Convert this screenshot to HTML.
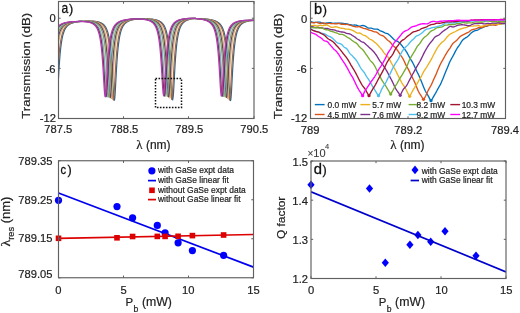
<!DOCTYPE html>
<html><head><meta charset="utf-8"><title>Figure</title>
<style>html,body{margin:0;padding:0;background:#fff;overflow:hidden;} svg{display:block;}
text{stroke:#222;stroke-width:0.2px;} text.pl{fill:#111;stroke:#111;stroke-width:0.3px;}</style>
</head><body>
<svg width="520" height="313" viewBox="0 0 520 313" font-family="'Liberation Sans', Arial, Helvetica, sans-serif">
<defs>
<clipPath id="ca"><rect x="58.5" y="1.5" width="195.5" height="117.0"/></clipPath>
<clipPath id="cb"><rect x="310.5" y="1.5" width="195.0" height="117.0"/></clipPath>
<clipPath id="cc"><rect x="58.5" y="160.75" width="195.0" height="117.0"/></clipPath>
<clipPath id="cd"><rect x="311" y="161" width="195" height="117.5"/></clipPath>
</defs>
<rect width="520" height="313" fill="#ffffff"/>
<polyline points="58.5,77.93 58.75,73.43 59,69.18 59.25,65.24 59.5,61.6 59.75,58.28 60,55.24 60.25,52.49 60.5,49.99 60.75,47.72 61,45.66 61.25,43.8 61.5,42.11 61.75,40.57 62,39.17 62.25,37.9 62.5,36.74 62.75,35.68 63,34.71 63.25,33.82 63.5,33.01 63.75,32.26 64,31.57 64.25,30.94 64.5,30.36 64.75,29.81 65,29.31 65.25,28.85 65.5,28.42 65.75,28.02 66,27.64 66.25,27.3 66.5,26.97 66.75,26.67 67,26.38 67.25,26.12 67.5,25.87 67.75,25.63 68,25.41 68.25,25.2 68.5,25.01 68.75,24.82 69,24.65 69.25,24.48 69.5,24.33 69.75,24.18 70,24.04 70.25,23.91 70.5,23.78 70.75,23.66 71,23.55 71.25,23.44 71.5,23.34 71.75,23.24 72,23.14 72.25,23.06 72.5,22.97 72.75,22.89 73,22.81 73.25,22.74 73.5,22.67 73.75,22.6 74,22.53 74.25,22.47 74.5,22.41 74.75,22.35 75,22.3 75.25,22.25 75.5,22.2 75.75,22.15 76,22.1 76.25,22.06 76.5,22.01 76.75,21.97 77,21.93 77.25,21.89 77.5,21.86 77.75,21.82 78,21.79 78.25,21.76 78.5,21.72 78.75,21.69 79,21.67 79.25,21.64 79.5,21.61 79.75,21.59 80,21.56 80.25,21.53 80.5,21.51 80.75,21.48 81,21.45 81.25,21.43 81.5,21.41 81.75,21.38 82,21.36 82.25,21.34 82.5,21.32 82.75,21.3 83,21.28 83.25,21.26 83.5,21.25 83.75,21.23 84,21.21 84.25,21.2 84.5,21.18 84.75,21.17 85,21.16 85.25,21.15 85.5,21.13 85.75,21.12 86,21.11 86.25,21.1 86.5,21.1 86.75,21.09 87,21.08 87.25,21.08 87.5,21.07 87.75,21.06 88,21.06 88.25,21.06 88.5,21.05 88.75,21.05 89,21.05 89.25,21.05 89.5,21.05 89.75,21.05 90,21.06 90.25,21.06 90.5,21.06 90.75,21.07 91,21.08 91.25,21.08 91.5,21.09 91.75,21.1 92,21.11 92.25,21.12 92.5,21.14 92.75,21.15 93,21.16 93.25,21.18 93.5,21.2 93.75,21.22 94,21.24 94.25,21.26 94.5,21.29 94.75,21.31 95,21.34 95.25,21.37 95.5,21.4 95.75,21.43 96,21.47 96.25,21.51 96.5,21.55 96.75,21.59 97,21.63 97.25,21.68 97.5,21.73 97.75,21.79 98,21.84 98.25,21.9 98.5,21.97 98.75,22.04 99,22.11 99.25,22.19 99.5,22.27 99.75,22.35 100,22.44 100.25,22.54 100.5,22.64 100.75,22.75 101,22.87 101.25,22.99 101.5,23.12 101.75,23.26 102,23.41 102.25,23.56 102.5,23.73 102.75,23.91 103,24.1 103.25,24.3 103.5,24.52 103.75,24.76 104,25 104.25,25.27 104.5,25.56 104.75,25.87 105,26.2 105.25,26.55 105.5,26.94 105.75,27.35 106,27.8 106.25,28.28 106.5,28.81 106.75,29.38 107,29.99 107.25,30.67 107.5,31.4 107.75,32.19 108,33.06 108.25,34.02 108.5,35.06 108.75,36.2 109,37.46 109.25,38.84 109.5,40.36 109.75,42.04 110,43.88 110.25,45.92 110.5,48.17 110.75,50.66 111,53.4 111.25,56.41 111.5,59.72 111.75,63.34 112,67.27 112.25,71.5 112.5,75.98 112.75,80.65 113,85.36 113.25,89.91 113.5,94.01 113.75,97.31 114,99.5 114.25,100.37 114.3,100 114.5,99.99 114.75,98.3 115,95.38 115.25,91.53 115.5,87.11 115.75,82.41 116,77.68 116.25,73.08 116.5,68.72 116.75,64.65 117,60.88 117.25,57.43 117.5,54.27 117.75,51.41 118,48.8 118.25,46.44 118.5,44.29 118.75,42.35 119,40.58 119.25,38.98 119.5,37.52 119.75,36.19 120,34.98 120.25,33.88 120.5,32.87 120.75,31.94 121,31.09 121.25,30.31 121.5,29.6 121.75,28.94 122,28.33 122.25,27.76 122.5,27.24 122.75,26.75 123,26.3 123.25,25.89 123.5,25.5 123.75,25.13 124,24.79 124.25,24.47 124.5,24.18 124.75,23.9 125,23.63 125.25,23.39 125.5,23.16 125.75,22.94 126,22.73 126.25,22.54 126.5,22.35 126.75,22.18 127,22.01 127.25,21.85 127.5,21.71 127.75,21.56 128,21.43 128.25,21.3 128.5,21.18 128.75,21.06 129,20.95 129.25,20.85 129.5,20.75 129.75,20.65 130,20.56 130.25,20.47 130.5,20.38 130.75,20.3 131,20.22 131.25,20.15 131.5,20.08 131.75,20.01 132,19.94 132.25,19.88 132.5,19.82 132.75,19.76 133,19.7 133.25,19.64 133.5,19.59 133.75,19.54 134,19.49 134.25,19.45 134.5,19.41 134.75,19.38 135,19.34 135.25,19.31 135.5,19.28 135.75,19.25 136,19.22 136.25,19.19 136.5,19.17 136.75,19.14 137,19.12 137.25,19.09 137.5,19.07 137.75,19.05 138,19.03 138.25,19.01 138.5,18.99 138.75,18.97 139,18.96 139.25,18.94 139.5,18.93 139.75,18.91 140,18.9 140.25,18.89 140.5,18.88 140.75,18.87 141,18.86 141.25,18.85 141.5,18.84 141.75,18.83 142,18.82 142.25,18.82 142.5,18.81 142.75,18.81 143,18.8 143.25,18.8 143.5,18.79 143.75,18.79 144,18.79 144.25,18.79 144.5,18.79 144.75,18.79 145,18.79 145.25,18.79 145.5,18.79 145.75,18.8 146,18.8 146.25,18.8 146.5,18.81 146.75,18.82 147,18.82 147.25,18.83 147.5,18.84 147.75,18.85 148,18.86 148.25,18.87 148.5,18.88 148.75,18.89 149,18.91 149.25,18.92 149.5,18.94 149.75,18.95 150,18.97 150.25,18.99 150.5,19.01 150.75,19.03 151,19.05 151.25,19.08 151.5,19.1 151.75,19.13 152,19.15 152.25,19.18 152.5,19.21 152.75,19.24 153,19.28 153.25,19.31 153.5,19.35 153.75,19.39 154,19.43 154.25,19.47 154.5,19.52 154.75,19.56 155,19.61 155.25,19.67 155.5,19.72 155.75,19.78 156,19.84 156.25,19.9 156.5,19.97 156.75,20.04 157,20.12 157.25,20.19 157.5,20.28 157.75,20.36 158,20.45 158.25,20.55 158.5,20.65 158.75,20.76 159,20.87 159.25,20.99 159.5,21.12 159.75,21.26 160,21.4 160.25,21.55 160.5,21.71 160.75,21.88 161,22.06 161.25,22.25 161.5,22.46 161.75,22.67 162,22.91 162.25,23.15 162.5,23.42 162.75,23.7 163,24.01 163.25,24.33 163.5,24.68 163.75,25.06 164,25.46 164.25,25.9 164.5,26.37 164.75,26.88 165,27.43 165.25,28.02 165.5,28.67 165.75,29.37 166,30.14 166.25,30.97 166.5,31.88 166.75,32.88 167,33.97 167.25,35.16 167.5,36.48 167.75,37.92 168,39.51 168.25,41.26 168.5,43.19 168.75,45.32 169,47.67 169.25,50.26 169.5,53.12 169.75,56.26 170,59.7 170.25,63.45 170.5,67.51 170.75,71.86 171,76.44 171.25,81.15 171.5,85.84 171.75,90.25 172,94.08 172.25,96.98 172.5,98.66 172.7,100 172.75,99.03 173,98.14 173.25,95.94 173.5,92.62 173.75,88.51 174,83.95 174.25,79.22 174.5,74.54 174.75,70.04 175,65.8 175.25,61.85 175.5,58.22 175.75,54.9 176,51.87 176.25,49.12 176.5,46.62 176.75,44.35 177,42.3 177.25,40.44 177.5,38.75 177.75,37.21 178,35.82 178.25,34.55 178.5,33.39 178.75,32.33 179,31.37 179.25,30.48 179.5,29.67 179.75,28.92 180,28.24 180.25,27.61 180.5,27.03 180.75,26.49 181,25.99 181.25,25.53 181.5,25.1 181.75,24.7 182,24.33 182.25,23.98 182.5,23.66 182.75,23.36 183,23.08 183.25,22.82 183.5,22.57 183.75,22.34 184,22.12 184.25,21.91 184.5,21.72 184.75,21.54 185,21.37 185.25,21.2 185.5,21.05 185.75,20.91 186,20.77 186.25,20.64 186.5,20.52 186.75,20.4 187,20.29 187.25,20.18 187.5,20.08 187.75,19.99 188,19.9 188.25,19.81 188.5,19.73 188.75,19.65 189,19.58 189.25,19.51 189.5,19.44 189.75,19.37 190,19.31 190.25,19.25 190.5,19.19 190.75,19.14 191,19.09 191.25,19.04 191.5,18.99 191.75,18.94 192,18.9 192.25,18.87 192.5,18.85 192.75,18.82 193,18.8 193.25,18.78 193.5,18.76 193.75,18.74 194,18.73 194.25,18.71 194.5,18.7 194.75,18.69 195,18.67 195.25,18.66 195.5,18.66 195.75,18.65 196,18.64 196.25,18.63 196.5,18.63 196.75,18.62 197,18.62 197.25,18.62 197.5,18.62 197.75,18.62 198,18.62 198.25,18.62 198.5,18.62 198.75,18.62 199,18.63 199.25,18.63 199.5,18.64 199.75,18.64 200,18.65 200.25,18.66 200.5,18.66 200.75,18.67 201,18.68 201.25,18.69 201.5,18.7 201.75,18.71 202,18.73 202.25,18.74 202.5,18.75 202.75,18.77 203,18.78 203.25,18.8 203.5,18.81 203.75,18.83 204,18.85 204.25,18.87 204.5,18.89 204.75,18.91 205,18.93 205.25,18.95 205.5,18.97 205.75,19 206,19.02 206.25,19.05 206.5,19.07 206.75,19.1 207,19.13 207.25,19.16 207.5,19.19 207.75,19.22 208,19.25 208.25,19.28 208.5,19.32 208.75,19.35 209,19.39 209.25,19.43 209.5,19.47 209.75,19.51 210,19.55 210.25,19.6 210.5,19.64 210.75,19.69 211,19.74 211.25,19.79 211.5,19.84 211.75,19.89 212,19.95 212.25,20.01 212.5,20.07 212.75,20.13 213,20.2 213.25,20.27 213.5,20.34 213.75,20.41 214,20.49 214.25,20.57 214.5,20.65 214.75,20.74 215,20.83 215.25,20.93 215.5,21.03 215.75,21.13 216,21.24 216.25,21.36 216.5,21.48 216.75,21.6 217,21.74 217.25,21.88 217.5,22.02 217.75,22.18 218,22.34 218.25,22.51 218.5,22.7 218.75,22.89 219,23.09 219.25,23.31 219.5,23.54 219.75,23.78 220,24.04 220.25,24.31 220.5,24.61 220.75,24.92 221,25.26 221.25,25.62 221.5,26 221.75,26.41 222,26.86 222.25,27.33 222.5,27.85 222.75,28.4 223,29 223.25,29.65 223.5,30.36 223.75,31.13 224,31.96 224.25,32.87 224.5,33.86 224.75,34.94 225,36.13 225.25,37.43 225.5,38.87 225.75,40.44 226,42.17 226.25,44.08 226.5,46.18 226.75,48.5 227,51.05 227.25,53.87 227.5,56.96 227.75,60.36 228,64.06 228.25,68.07 228.5,72.38 228.75,76.93 229,81.65 229.25,86.37 229.5,90.87 229.75,94.86 230,97.99 230.25,99.94 230.5,100 230.5,100.57 230.75,99.97 231,98.03 231.25,94.93 231.5,90.96 231.75,86.48 232,81.78 232.25,77.08 232.5,72.54 232.75,68.25 233,64.25 233.25,60.56 233.5,57.18 233.75,54.1 234,51.3 234.25,48.76 234.5,46.45 234.75,44.36 235,42.47 235.25,40.75 235.5,39.19 235.75,37.78 236,36.49 236.25,35.31 236.5,34.24 236.75,33.27 237,32.37 237.25,31.55 237.5,30.8 237.75,30.11 238,29.47 238.25,28.88 238.5,28.34 238.75,27.84 239,27.38 239.25,26.95 239.5,26.55 239.75,26.18 240,25.83 240.25,25.51 240.5,25.21 240.75,24.93 241,24.67 241.25,24.43 241.5,24.2 241.75,23.98 242,23.78 242.25,23.59 242.5,23.41 242.75,23.24 243,23.08 243.25,22.94 243.5,22.79 243.75,22.66 244,22.54 244.25,22.42 244.5,22.3 244.75,22.2 245,22.1 245.25,22 245.5,21.91 245.75,21.82 246,21.74 246.25,21.66 246.5,21.59 246.75,21.52 247,21.45 247.25,21.39 247.5,21.33 247.75,21.27 248,21.22 248.25,21.17 248.5,21.12 248.75,21.07 249,21.02 249.25,20.98 249.5,20.94 249.75,20.9 250,20.87 250.25,20.83 250.5,20.8 250.75,20.76 251,20.73 251.25,20.71 251.5,20.68 251.75,20.65 252,20.63 252.25,20.61 252.5,20.58 252.75,20.56 253,20.54 253.25,20.52 253.5,20.51 253.75,20.49" fill="none" stroke="#2c658b" stroke-width="1.2" stroke-linejoin="round" clip-path="url(#ca)"/>
<polyline points="58.5,61.85 58.75,58.51 59,55.47 59.25,52.7 59.5,50.18 59.75,47.9 60,45.83 60.25,43.95 60.5,42.25 60.75,40.7 61,39.3 61.25,38.01 61.5,36.85 61.75,35.78 62,34.8 62.25,33.91 62.5,33.09 62.75,32.34 63,31.65 63.25,31.01 63.5,30.42 63.75,29.88 64,29.37 64.25,28.91 64.5,28.47 64.75,28.07 65,27.69 65.25,27.35 65.5,27.02 65.75,26.71 66,26.43 66.25,26.16 66.5,25.91 66.75,25.67 67,25.45 67.25,25.24 67.5,25.05 67.75,24.86 68,24.69 68.25,24.52 68.5,24.36 68.75,24.22 69,24.08 69.25,23.94 69.5,23.82 69.75,23.7 70,23.58 70.25,23.47 70.5,23.37 70.75,23.27 71,23.18 71.25,23.09 71.5,23 71.75,22.92 72,22.84 72.25,22.77 72.5,22.7 72.75,22.63 73,22.56 73.25,22.5 73.5,22.44 73.75,22.38 74,22.33 74.25,22.28 74.5,22.23 74.75,22.18 75,22.13 75.25,22.09 75.5,22.04 75.75,22 76,21.96 76.25,21.92 76.5,21.89 76.75,21.85 77,21.82 77.25,21.78 77.5,21.75 77.75,21.72 78,21.69 78.25,21.67 78.5,21.64 78.75,21.61 79,21.59 79.25,21.57 79.5,21.54 79.75,21.52 80,21.5 80.25,21.48 80.5,21.45 80.75,21.43 81,21.41 81.25,21.39 81.5,21.37 81.75,21.35 82,21.33 82.25,21.31 82.5,21.29 82.75,21.28 83,21.26 83.25,21.25 83.5,21.23 83.75,21.22 84,21.2 84.25,21.19 84.5,21.18 84.75,21.17 85,21.16 85.25,21.15 85.5,21.14 85.75,21.13 86,21.13 86.25,21.12 86.5,21.12 86.75,21.11 87,21.11 87.25,21.1 87.5,21.1 87.75,21.1 88,21.1 88.25,21.1 88.5,21.1 88.75,21.1 89,21.1 89.25,21.1 89.5,21.11 89.75,21.11 90,21.12 90.25,21.13 90.5,21.14 90.75,21.14 91,21.15 91.25,21.17 91.5,21.18 91.75,21.19 92,21.21 92.25,21.22 92.5,21.24 92.75,21.26 93,21.28 93.25,21.3 93.5,21.33 93.75,21.35 94,21.38 94.25,21.41 94.5,21.44 94.75,21.47 95,21.51 95.25,21.55 95.5,21.59 95.75,21.63 96,21.67 96.25,21.72 96.5,21.77 96.75,21.82 97,21.88 97.25,21.94 97.5,22 97.75,22.07 98,22.14 98.25,22.22 98.5,22.3 98.75,22.39 99,22.48 99.25,22.57 99.5,22.67 99.75,22.78 100,22.9 100.25,23.02 100.5,23.15 100.75,23.28 101,23.43 101.25,23.59 101.5,23.75 101.75,23.93 102,24.12 102.25,24.32 102.5,24.54 102.75,24.77 103,25.02 103.25,25.28 103.5,25.57 103.75,25.87 104,26.2 104.25,26.55 104.5,26.93 104.75,27.34 105,27.79 105.25,28.26 105.5,28.78 105.75,29.35 106,29.96 106.25,30.62 106.5,31.34 106.75,32.13 107,32.99 107.25,33.93 107.5,34.96 107.75,36.09 108,37.34 108.25,38.7 108.5,40.2 108.75,41.86 109,43.68 109.25,45.69 109.5,47.91 109.75,50.36 110,53.06 110.25,56.04 110.5,59.3 110.75,62.87 111,66.74 111.25,70.92 111.5,75.35 111.75,79.96 112,84.64 112.25,89.16 112.5,93.27 112.75,96.62 113,98.9 113.25,99.89 113.33,99.5 113.5,99.64 113.75,98.1 114,95.33 114.25,91.61 114.5,87.28 114.75,82.64 115,77.95 115.25,73.37 115.5,69.01 115.75,64.94 116,61.16 116.25,57.69 116.5,54.52 116.75,51.64 117,49.02 117.25,46.64 117.5,44.48 117.75,42.52 118,40.75 118.25,39.13 118.5,37.66 118.75,36.33 119,35.11 119.25,34 119.5,32.98 119.75,32.05 120,31.2 120.25,30.41 120.5,29.69 120.75,29.03 121,28.41 121.25,27.85 121.5,27.32 121.75,26.83 122,26.38 122.25,25.96 122.5,25.57 122.75,25.2 123,24.86 123.25,24.54 123.5,24.24 123.75,23.96 124,23.7 124.25,23.45 124.5,23.22 124.75,23 125,22.79 125.25,22.59 125.5,22.41 125.75,22.23 126,22.07 126.25,21.91 126.5,21.76 126.75,21.62 127,21.48 127.25,21.36 127.5,21.23 127.75,21.12 128,21.01 128.25,20.9 128.5,20.8 128.75,20.7 129,20.61 129.25,20.52 129.5,20.43 129.75,20.35 130,20.27 130.25,20.2 130.5,20.13 130.75,20.06 131,19.99 131.25,19.93 131.5,19.87 131.75,19.81 132,19.75 132.25,19.69 132.5,19.64 132.75,19.59 133,19.54 133.25,19.49 133.5,19.44 133.75,19.4 134,19.36 134.25,19.32 134.5,19.29 134.75,19.26 135,19.23 135.25,19.21 135.5,19.18 135.75,19.15 136,19.13 136.25,19.11 136.5,19.08 136.75,19.06 137,19.04 137.25,19.02 137.5,19 137.75,18.99 138,18.97 138.25,18.96 138.5,18.94 138.75,18.93 139,18.91 139.25,18.9 139.5,18.89 139.75,18.88 140,18.87 140.25,18.86 140.5,18.85 140.75,18.84 141,18.83 141.25,18.83 141.5,18.82 141.75,18.82 142,18.81 142.25,18.81 142.5,18.81 142.75,18.8 143,18.8 143.25,18.8 143.5,18.8 143.75,18.8 144,18.8 144.25,18.8 144.5,18.8 144.75,18.81 145,18.81 145.25,18.82 145.5,18.82 145.75,18.83 146,18.83 146.25,18.84 146.5,18.85 146.75,18.86 147,18.87 147.25,18.88 147.5,18.89 147.75,18.9 148,18.92 148.25,18.93 148.5,18.95 148.75,18.96 149,18.98 149.25,19 149.5,19.02 149.75,19.04 150,19.06 150.25,19.08 150.5,19.11 150.75,19.13 151,19.16 151.25,19.19 151.5,19.22 151.75,19.25 152,19.28 152.25,19.32 152.5,19.36 152.75,19.39 153,19.44 153.25,19.48 153.5,19.52 153.75,19.57 154,19.62 154.25,19.67 154.5,19.73 154.75,19.78 155,19.84 155.25,19.91 155.5,19.97 155.75,20.04 156,20.12 156.25,20.19 156.5,20.28 156.75,20.36 157,20.45 157.25,20.55 157.5,20.65 157.75,20.76 158,20.87 158.25,20.99 158.5,21.12 158.75,21.25 159,21.39 159.25,21.54 159.5,21.7 159.75,21.87 160,22.05 160.25,22.24 160.5,22.44 160.75,22.66 161,22.89 161.25,23.13 161.5,23.4 161.75,23.68 162,23.98 162.25,24.3 162.5,24.65 162.75,25.02 163,25.42 163.25,25.85 163.5,26.32 163.75,26.82 164,27.36 164.25,27.95 164.5,28.59 164.75,29.29 165,30.05 165.25,30.87 165.5,31.77 165.75,32.76 166,33.83 166.25,35.02 166.5,36.31 166.75,37.74 167,39.31 167.25,41.04 167.5,42.94 167.75,45.04 168,47.36 168.25,49.92 168.5,52.74 168.75,55.83 169,59.22 169.25,62.92 169.5,66.93 169.75,71.22 170,75.75 170.25,80.41 170.5,85.06 170.75,89.47 171,93.32 171.25,96.29 171.5,98.07 171.72,99.5 171.75,98.56 172,97.82 172.25,95.77 172.5,92.59 172.75,88.6 173,84.12 173.25,79.44 173.5,74.79 173.75,70.3 174,66.05 174.25,62.1 174.5,58.46 174.75,55.12 175,52.08 175.25,49.31 175.5,46.8 175.75,44.52 176,42.45 176.25,40.58 176.5,38.87 176.75,37.33 177,35.92 177.25,34.65 177.5,33.48 177.75,32.42 178,31.44 178.25,30.55 178.5,29.74 178.75,28.99 179,28.3 179.25,27.66 179.5,27.08 179.75,26.53 180,26.03 180.25,25.57 180.5,25.14 180.75,24.74 181,24.37 181.25,24.02 181.5,23.69 181.75,23.39 182,23.11 182.25,22.84 182.5,22.6 182.75,22.36 183,22.14 183.25,21.94 183.5,21.74 183.75,21.56 184,21.39 184.25,21.23 184.5,21.07 184.75,20.93 185,20.79 185.25,20.66 185.5,20.54 185.75,20.42 186,20.31 186.25,20.2 186.5,20.1 186.75,20.01 187,19.92 187.25,19.83 187.5,19.75 187.75,19.67 188,19.59 188.25,19.52 188.5,19.45 188.75,19.39 189,19.33 189.25,19.27 189.5,19.21 189.75,19.15 190,19.1 190.25,19.05 190.5,19 190.75,18.96 191,18.92 191.25,18.87 191.5,18.83 191.75,18.79 192,18.76 192.25,18.74 192.5,18.72 192.75,18.7 193,18.68 193.25,18.67 193.5,18.65 193.75,18.64 194,18.63 194.25,18.62 194.5,18.61 194.75,18.6 195,18.6 195.25,18.59 195.5,18.58 195.75,18.58 196,18.58 196.25,18.57 196.5,18.57 196.75,18.57 197,18.57 197.25,18.57 197.5,18.58 197.75,18.58 198,18.58 198.25,18.59 198.5,18.59 198.75,18.6 199,18.6 199.25,18.61 199.5,18.62 199.75,18.63 200,18.64 200.25,18.64 200.5,18.66 200.75,18.67 201,18.68 201.25,18.69 201.5,18.71 201.75,18.72 202,18.73 202.25,18.75 202.5,18.77 202.75,18.78 203,18.8 203.25,18.82 203.5,18.84 203.75,18.86 204,18.88 204.25,18.9 204.5,18.93 204.75,18.95 205,18.97 205.25,19 205.5,19.02 205.75,19.05 206,19.08 206.25,19.11 206.5,19.14 206.75,19.17 207,19.2 207.25,19.23 207.5,19.27 207.75,19.3 208,19.34 208.25,19.38 208.5,19.42 208.75,19.46 209,19.5 209.25,19.54 209.5,19.59 209.75,19.64 210,19.69 210.25,19.74 210.5,19.79 210.75,19.84 211,19.9 211.25,19.96 211.5,20.02 211.75,20.08 212,20.15 212.25,20.21 212.5,20.28 212.75,20.36 213,20.43 213.25,20.51 213.5,20.6 213.75,20.68 214,20.78 214.25,20.87 214.5,20.97 214.75,21.07 215,21.18 215.25,21.3 215.5,21.42 215.75,21.54 216,21.67 216.25,21.81 216.5,21.96 216.75,22.11 217,22.27 217.25,22.45 217.5,22.63 217.75,22.82 218,23.02 218.25,23.23 218.5,23.46 218.75,23.7 219,23.96 219.25,24.23 219.5,24.52 219.75,24.83 220,25.17 220.25,25.52 220.5,25.9 220.75,26.31 221,26.75 221.25,27.22 221.5,27.73 221.75,28.28 222,28.88 222.25,29.52 222.5,30.22 222.75,30.98 223,31.8 223.25,32.7 223.5,33.68 223.75,34.76 224,35.93 224.25,37.22 224.5,38.63 224.75,40.18 225,41.89 225.25,43.78 225.5,45.85 225.75,48.14 226,50.66 226.25,53.44 226.5,56.49 226.75,59.83 227,63.49 227.25,67.45 227.5,71.7 227.75,76.2 228,80.86 228.25,85.54 228.5,90.03 228.75,94.04 229,97.22 229.25,99.28 229.5,100.02 229.53,99.5 229.75,99.55 230,97.78 230.25,94.82 230.5,90.97 230.75,86.57 231,81.93 231.25,77.27 231.5,72.76 231.75,68.47 232,64.48 232.25,60.78 232.5,57.38 232.75,54.29 233,51.47 233.25,48.91 233.5,46.6 233.75,44.49 234,42.59 234.25,40.86 234.5,39.29 234.75,37.86 235,36.57 235.25,35.38 235.5,34.31 235.75,33.32 236,32.42 236.25,31.6 236.5,30.84 236.75,30.14 237,29.5 237.25,28.91 237.5,28.37 237.75,27.86 238,27.4 238.25,26.97 238.5,26.57 238.75,26.19 239,25.85 239.25,25.52 239.5,25.22 239.75,24.94 240,24.68 240.25,24.43 240.5,24.2 240.75,23.99 241,23.78 241.25,23.59 241.5,23.41 241.75,23.24 242,23.08 242.25,22.93 242.5,22.79 242.75,22.66 243,22.53 243.25,22.41 243.5,22.3 243.75,22.19 244,22.09 244.25,22 244.5,21.9 244.75,21.82 245,21.74 245.25,21.66 245.5,21.58 245.75,21.51 246,21.45 246.25,21.38 246.5,21.32 246.75,21.26 247,21.21 247.25,21.16 247.5,21.11 247.75,21.06 248,21.02 248.25,20.97 248.5,20.93 248.75,20.89 249,20.86 249.25,20.82 249.5,20.79 249.75,20.76 250,20.73 250.25,20.7 250.5,20.67 250.75,20.64 251,20.62 251.25,20.6 251.5,20.57 251.75,20.55 252,20.53 252.25,20.51 252.5,20.5 252.75,20.48 253,20.46 253.25,20.45 253.5,20.44 253.75,20.42" fill="none" stroke="#a76447" stroke-width="1.2" stroke-linejoin="round" clip-path="url(#ca)"/>
<polyline points="58.5,42.92 58.75,41.31 59,39.86 59.25,38.53 59.5,37.32 59.75,36.22 60,35.21 60.25,34.29 60.5,33.44 60.75,32.66 61,31.95 61.25,31.29 61.5,30.69 61.75,30.13 62,29.61 62.25,29.13 62.5,28.68 62.75,28.27 63,27.88 63.25,27.52 63.5,27.19 63.75,26.87 64,26.58 64.25,26.31 64.5,26.05 64.75,25.81 65,25.58 65.25,25.37 65.5,25.17 65.75,24.98 66,24.8 66.25,24.63 66.5,24.47 66.75,24.32 67,24.18 67.25,24.04 67.5,23.91 67.75,23.79 68,23.67 68.25,23.56 68.5,23.46 68.75,23.36 69,23.26 69.25,23.17 69.5,23.09 69.75,23 70,22.92 70.25,22.85 70.5,22.78 70.75,22.71 71,22.64 71.25,22.58 71.5,22.52 71.75,22.46 72,22.4 72.25,22.35 72.5,22.3 72.75,22.25 73,22.2 73.25,22.15 73.5,22.11 73.75,22.07 74,22.03 74.25,21.99 74.5,21.95 74.75,21.92 75,21.88 75.25,21.85 75.5,21.82 75.75,21.79 76,21.76 76.25,21.73 76.5,21.7 76.75,21.68 77,21.65 77.25,21.63 77.5,21.6 77.75,21.58 78,21.56 78.25,21.54 78.5,21.52 78.75,21.5 79,21.49 79.25,21.47 79.5,21.45 79.75,21.44 80,21.42 80.25,21.41 80.5,21.39 80.75,21.37 81,21.36 81.25,21.34 81.5,21.33 81.75,21.31 82,21.3 82.25,21.29 82.5,21.27 82.75,21.26 83,21.25 83.25,21.24 83.5,21.23 83.75,21.23 84,21.22 84.25,21.21 84.5,21.21 84.75,21.2 85,21.2 85.25,21.19 85.5,21.19 85.75,21.19 86,21.18 86.25,21.18 86.5,21.18 86.75,21.19 87,21.19 87.25,21.19 87.5,21.19 87.75,21.2 88,21.2 88.25,21.21 88.5,21.22 88.75,21.23 89,21.24 89.25,21.25 89.5,21.26 89.75,21.27 90,21.29 90.25,21.3 90.5,21.32 90.75,21.34 91,21.36 91.25,21.38 91.5,21.4 91.75,21.43 92,21.45 92.25,21.48 92.5,21.51 92.75,21.54 93,21.58 93.25,21.61 93.5,21.65 93.75,21.69 94,21.73 94.25,21.78 94.5,21.83 94.75,21.88 95,21.94 95.25,21.99 95.5,22.06 95.75,22.12 96,22.19 96.25,22.26 96.5,22.34 96.75,22.42 97,22.51 97.25,22.6 97.5,22.7 97.75,22.81 98,22.92 98.25,23.03 98.5,23.16 98.75,23.29 99,23.43 99.25,23.58 99.5,23.75 99.75,23.92 100,24.1 100.25,24.29 100.5,24.5 100.75,24.72 101,24.96 101.25,25.22 101.5,25.49 101.75,25.78 102,26.1 102.25,26.44 102.5,26.8 102.75,27.2 103,27.62 103.25,28.08 103.5,28.58 103.75,29.12 104,29.7 104.25,30.34 104.5,31.03 104.75,31.78 105,32.6 105.25,33.49 105.5,34.48 105.75,35.55 106,36.73 106.25,38.02 106.5,39.45 106.75,41.01 107,42.74 107.25,44.65 107.5,46.75 107.75,49.06 108,51.61 108.25,54.42 108.5,57.51 108.75,60.88 109,64.55 109.25,68.51 109.5,72.74 109.75,77.18 110,81.72 110.25,86.2 110.5,90.39 110.75,93.99 111,96.68 111.25,98.21 111.44,98 111.5,98.49 111.75,97.61 112,95.47 112.25,92.28 112.5,88.34 112.75,83.95 113,79.39 113.25,74.86 113.5,70.49 113.75,66.37 114,62.52 114.25,58.97 114.5,55.71 114.75,52.74 115,50.03 115.25,47.57 115.5,45.34 115.75,43.31 116,41.47 116.25,39.8 116.5,38.28 116.75,36.9 117,35.64 117.25,34.49 117.5,33.44 117.75,32.48 118,31.59 118.25,30.79 118.5,30.04 118.75,29.35 119,28.72 119.25,28.14 119.5,27.6 119.75,27.1 120,26.63 120.25,26.2 120.5,25.8 120.75,25.42 121,25.07 121.25,24.74 121.5,24.44 121.75,24.15 122,23.88 122.25,23.63 122.5,23.39 122.75,23.16 123,22.95 123.25,22.75 123.5,22.56 123.75,22.38 124,22.21 124.25,22.05 124.5,21.9 124.75,21.76 125,21.62 125.25,21.49 125.5,21.37 125.75,21.25 126,21.13 126.25,21.03 126.5,20.92 126.75,20.82 127,20.73 127.25,20.64 127.5,20.55 127.75,20.47 128,20.39 128.25,20.32 128.5,20.24 128.75,20.17 129,20.1 129.25,20.04 129.5,19.98 129.75,19.92 130,19.86 130.25,19.8 130.5,19.75 130.75,19.7 131,19.65 131.25,19.6 131.5,19.55 131.75,19.51 132,19.46 132.25,19.42 132.5,19.38 132.75,19.34 133,19.3 133.25,19.26 133.5,19.23 133.75,19.19 134,19.16 134.25,19.14 134.5,19.11 134.75,19.09 135,19.07 135.25,19.05 135.5,19.03 135.75,19.02 136,19 136.25,18.98 136.5,18.97 136.75,18.95 137,18.94 137.25,18.93 137.5,18.92 137.75,18.9 138,18.89 138.25,18.88 138.5,18.88 138.75,18.87 139,18.86 139.25,18.85 139.5,18.85 139.75,18.84 140,18.84 140.25,18.83 140.5,18.83 140.75,18.83 141,18.82 141.25,18.82 141.5,18.82 141.75,18.82 142,18.82 142.25,18.82 142.5,18.82 142.75,18.83 143,18.83 143.25,18.83 143.5,18.84 143.75,18.84 144,18.85 144.25,18.86 144.5,18.87 144.75,18.87 145,18.88 145.25,18.89 145.5,18.91 145.75,18.92 146,18.93 146.25,18.94 146.5,18.96 146.75,18.98 147,18.99 147.25,19.01 147.5,19.03 147.75,19.05 148,19.07 148.25,19.09 148.5,19.12 148.75,19.14 149,19.17 149.25,19.2 149.5,19.22 149.75,19.26 150,19.29 150.25,19.32 150.5,19.36 150.75,19.39 151,19.43 151.25,19.48 151.5,19.52 151.75,19.56 152,19.61 152.25,19.66 152.5,19.72 152.75,19.77 153,19.83 153.25,19.89 153.5,19.96 153.75,20.02 154,20.1 154.25,20.17 154.5,20.25 154.75,20.34 155,20.42 155.25,20.52 155.5,20.61 155.75,20.72 156,20.83 156.25,20.94 156.5,21.07 156.75,21.19 157,21.33 157.25,21.48 157.5,21.63 157.75,21.79 158,21.97 158.25,22.15 158.5,22.35 158.75,22.55 159,22.78 159.25,23.01 159.5,23.27 159.75,23.54 160,23.83 160.25,24.14 160.5,24.47 160.75,24.83 161,25.22 161.25,25.63 161.5,26.08 161.75,26.56 162,27.08 162.25,27.64 162.5,28.26 162.75,28.92 163,29.64 163.25,30.43 163.5,31.29 163.75,32.23 164,33.25 164.25,34.38 164.5,35.61 164.75,36.96 165,38.45 165.25,40.09 165.5,41.89 165.75,43.88 166,46.07 166.25,48.49 166.5,51.15 166.75,54.08 167,57.28 167.25,60.79 167.5,64.58 167.75,68.67 168,72.99 168.25,77.5 168.5,82.05 168.75,86.45 169,90.45 169.25,93.74 169.5,95.99 169.75,97.02 169.84,98 170,96.86 170.25,95.47 170.5,92.89 170.75,89.37 171,85.22 171.25,80.75 171.5,76.19 171.75,71.72 172,67.45 172.25,63.44 172.5,59.71 172.75,56.29 173,53.16 173.25,50.3 173.5,47.71 173.75,45.35 174,43.21 174.25,41.27 174.5,39.51 174.75,37.91 175,36.45 175.25,35.13 175.5,33.92 175.75,32.82 176,31.82 176.25,30.9 176.5,30.05 176.75,29.28 177,28.57 177.25,27.91 177.5,27.31 177.75,26.75 178,26.24 178.25,25.76 178.5,25.31 178.75,24.9 179,24.52 179.25,24.16 179.5,23.83 179.75,23.52 180,23.23 180.25,22.96 180.5,22.71 180.75,22.47 181,22.24 181.25,22.03 181.5,21.83 181.75,21.65 182,21.47 182.25,21.31 182.5,21.15 182.75,21 183,20.86 183.25,20.73 183.5,20.6 183.75,20.48 184,20.37 184.25,20.26 184.5,20.16 184.75,20.06 185,19.97 185.25,19.88 185.5,19.8 185.75,19.72 186,19.64 186.25,19.57 186.5,19.5 186.75,19.43 187,19.37 187.25,19.31 187.5,19.25 187.75,19.2 188,19.14 188.25,19.09 188.5,19.04 188.75,19 189,18.95 189.25,18.91 189.5,18.87 189.75,18.83 190,18.79 190.25,18.76 190.5,18.72 190.75,18.69 191,18.66 191.25,18.63 191.5,18.6 191.75,18.57 192,18.55 192.25,18.54 192.5,18.53 192.75,18.52 193,18.51 193.25,18.5 193.5,18.5 193.75,18.49 194,18.49 194.25,18.49 194.5,18.49 194.75,18.48 195,18.48 195.25,18.49 195.5,18.49 195.75,18.49 196,18.49 196.25,18.5 196.5,18.5 196.75,18.51 197,18.51 197.25,18.52 197.5,18.53 197.75,18.53 198,18.54 198.25,18.55 198.5,18.56 198.75,18.57 199,18.59 199.25,18.6 199.5,18.61 199.75,18.63 200,18.64 200.25,18.66 200.5,18.67 200.75,18.69 201,18.71 201.25,18.72 201.5,18.74 201.75,18.76 202,18.78 202.25,18.81 202.5,18.83 202.75,18.85 203,18.87 203.25,18.9 203.5,18.92 203.75,18.95 204,18.98 204.25,19.01 204.5,19.04 204.75,19.07 205,19.1 205.25,19.13 205.5,19.16 205.75,19.2 206,19.24 206.25,19.27 206.5,19.31 206.75,19.35 207,19.39 207.25,19.44 207.5,19.48 207.75,19.53 208,19.57 208.25,19.62 208.5,19.67 208.75,19.73 209,19.78 209.25,19.84 209.5,19.9 209.75,19.96 210,20.02 210.25,20.09 210.5,20.16 210.75,20.23 211,20.31 211.25,20.38 211.5,20.47 211.75,20.55 212,20.64 212.25,20.73 212.5,20.83 212.75,20.93 213,21.04 213.25,21.15 213.5,21.26 213.75,21.39 214,21.51 214.25,21.65 214.5,21.79 214.75,21.94 215,22.1 215.25,22.26 215.5,22.44 215.75,22.62 216,22.82 216.25,23.03 216.5,23.25 216.75,23.48 217,23.73 217.25,23.99 217.5,24.27 217.75,24.57 218,24.89 218.25,25.24 218.5,25.6 218.75,26 219,26.42 219.25,26.87 219.5,27.36 219.75,27.89 220,28.46 220.25,29.08 220.5,29.74 220.75,30.47 221,31.26 221.25,32.11 221.5,33.05 221.75,34.07 222,35.19 222.25,36.41 222.5,37.75 222.75,39.23 223,40.85 223.25,42.63 223.5,44.6 223.75,46.76 224,49.14 224.25,51.77 224.5,54.65 224.75,57.82 225,61.27 225.25,65.03 225.5,69.07 225.75,73.37 226,77.86 226.25,82.42 226.5,86.89 226.75,91.01 227,94.48 227.25,96.98 227.5,98.27 227.64,98 227.75,98.35 228,97.23 228.25,94.89 228.5,91.55 228.75,87.51 229,83.09 229.25,78.55 229.5,74.06 229.75,69.76 230,65.71 230.25,61.94 230.5,58.47 230.75,55.3 231,52.4 231.25,49.77 231.5,47.38 231.75,45.21 232,43.25 232.25,41.46 232.5,39.83 232.75,38.36 233,37.01 233.25,35.79 233.5,34.67 233.75,33.66 234,32.72 234.25,31.87 234.5,31.09 234.75,30.37 235,29.71 235.25,29.1 235.5,28.54 235.75,28.02 236,27.54 236.25,27.1 236.5,26.69 236.75,26.3 237,25.95 237.25,25.62 237.5,25.31 237.75,25.02 238,24.75 238.25,24.5 238.5,24.26 238.75,24.04 239,23.83 239.25,23.64 239.5,23.45 239.75,23.28 240,23.12 240.25,22.96 240.5,22.82 240.75,22.68 241,22.55 241.25,22.43 241.5,22.32 241.75,22.21 242,22.11 242.25,22.01 242.5,21.91 242.75,21.83 243,21.74 243.25,21.66 243.5,21.59 243.75,21.52 244,21.45 244.25,21.38 244.5,21.32 244.75,21.26 245,21.21 245.25,21.15 245.5,21.1 245.75,21.06 246,21.01 246.25,20.97 246.5,20.93 246.75,20.89 247,20.85 247.25,20.81 247.5,20.78 247.75,20.75 248,20.71 248.25,20.69 248.5,20.66 248.75,20.63 249,20.61 249.25,20.58 249.5,20.56 249.75,20.54 250,20.52 250.25,20.5 250.5,20.48 250.75,20.46 251,20.45 251.25,20.43 251.5,20.42 251.75,20.41 252,20.39 252.25,20.38 252.5,20.37 252.75,20.36 253,20.35 253.25,20.35 253.5,20.34 253.75,20.33" fill="none" stroke="#d0b269" stroke-width="1.2" stroke-linejoin="round" clip-path="url(#ca)"/>
<polyline points="58.5,36.26 58.75,35.25 59,34.33 59.25,33.48 59.5,32.71 59.75,31.99 60,31.34 60.25,30.73 60.5,30.17 60.75,29.65 61,29.17 61.25,28.72 61.5,28.31 61.75,27.92 62,27.56 62.25,27.23 62.5,26.92 62.75,26.62 63,26.35 63.25,26.09 63.5,25.85 63.75,25.62 64,25.41 64.25,25.21 64.5,25.02 64.75,24.84 65,24.67 65.25,24.51 65.5,24.36 65.75,24.22 66,24.08 66.25,23.96 66.5,23.83 66.75,23.72 67,23.61 67.25,23.5 67.5,23.4 67.75,23.31 68,23.22 68.25,23.13 68.5,23.05 68.75,22.97 69,22.89 69.25,22.82 69.5,22.75 69.75,22.68 70,22.62 70.25,22.56 70.5,22.5 70.75,22.45 71,22.39 71.25,22.34 71.5,22.29 71.75,22.24 72,22.2 72.25,22.15 72.5,22.11 72.75,22.07 73,22.03 73.25,22 73.5,21.96 73.75,21.93 74,21.89 74.25,21.86 74.5,21.83 74.75,21.8 75,21.77 75.25,21.75 75.5,21.72 75.75,21.7 76,21.67 76.25,21.65 76.5,21.63 76.75,21.61 77,21.59 77.25,21.57 77.5,21.55 77.75,21.53 78,21.51 78.25,21.5 78.5,21.48 78.75,21.47 79,21.45 79.25,21.44 79.5,21.43 79.75,21.42 80,21.41 80.25,21.39 80.5,21.38 80.75,21.37 81,21.35 81.25,21.34 81.5,21.33 81.75,21.32 82,21.31 82.25,21.3 82.5,21.29 82.75,21.29 83,21.28 83.25,21.27 83.5,21.27 83.75,21.26 84,21.26 84.25,21.26 84.5,21.25 84.75,21.25 85,21.25 85.25,21.25 85.5,21.25 85.75,21.25 86,21.26 86.25,21.26 86.5,21.26 86.75,21.27 87,21.28 87.25,21.28 87.5,21.29 87.75,21.3 88,21.31 88.25,21.32 88.5,21.34 88.75,21.35 89,21.37 89.25,21.38 89.5,21.4 89.75,21.42 90,21.44 90.25,21.47 90.5,21.49 90.75,21.52 91,21.54 91.25,21.57 91.5,21.6 91.75,21.64 92,21.67 92.25,21.71 92.5,21.75 92.75,21.8 93,21.84 93.25,21.89 93.5,21.94 93.75,22 94,22.05 94.25,22.11 94.5,22.18 94.75,22.25 95,22.32 95.25,22.4 95.5,22.48 95.75,22.57 96,22.66 96.25,22.75 96.5,22.86 96.75,22.97 97,23.09 97.25,23.21 97.5,23.34 97.75,23.48 98,23.63 98.25,23.79 98.5,23.96 98.75,24.14 99,24.33 99.25,24.54 99.5,24.76 99.75,25 100,25.25 100.25,25.52 100.5,25.81 100.75,26.13 101,26.46 101.25,26.82 101.5,27.21 101.75,27.63 102,28.09 102.25,28.58 102.5,29.11 102.75,29.69 103,30.32 103.25,31 103.5,31.75 103.75,32.56 104,33.45 104.25,34.42 104.5,35.48 104.75,36.65 105,37.93 105.25,39.33 105.5,40.88 105.75,42.59 106,44.47 106.25,46.54 106.5,48.83 106.75,51.34 107,54.11 107.25,57.15 107.5,60.47 107.75,64.08 108,67.97 108.25,72.13 108.5,76.48 108.75,80.94 109,85.34 109.25,89.46 109.5,93.01 109.75,95.68 110,97.24 110.2,97 110.25,97.58 110.5,96.79 110.75,94.79 111,91.74 111.25,87.93 111.5,83.66 111.75,79.19 112,74.73 112.25,70.42 112.5,66.33 112.75,62.51 113,58.98 113.25,55.74 113.5,52.78 113.75,50.08 114,47.63 114.25,45.4 114.5,43.38 114.75,41.54 115,39.87 115.25,38.35 115.5,36.97 115.75,35.71 116,34.56 116.25,33.51 116.5,32.54 116.75,31.66 117,30.85 117.25,30.11 117.5,29.42 117.75,28.79 118,28.2 118.25,27.66 118.5,27.16 118.75,26.7 119,26.26 119.25,25.86 119.5,25.49 119.75,25.14 120,24.81 120.25,24.5 120.5,24.21 120.75,23.95 121,23.69 121.25,23.45 121.5,23.23 121.75,23.02 122,22.82 122.25,22.63 122.5,22.45 122.75,22.28 123,22.12 123.25,21.97 123.5,21.82 123.75,21.69 124,21.56 124.25,21.43 124.5,21.31 124.75,21.2 125,21.09 125.25,20.99 125.5,20.89 125.75,20.8 126,20.71 126.25,20.62 126.5,20.54 126.75,20.46 127,20.38 127.25,20.31 127.5,20.24 127.75,20.17 128,20.11 128.25,20.04 128.5,19.98 128.75,19.93 129,19.87 129.25,19.82 129.5,19.76 129.75,19.71 130,19.67 130.25,19.62 130.5,19.57 130.75,19.53 131,19.49 131.25,19.45 131.5,19.41 131.75,19.37 132,19.33 132.25,19.3 132.5,19.26 132.75,19.23 133,19.2 133.25,19.17 133.5,19.13 133.75,19.11 134,19.08 134.25,19.06 134.5,19.04 134.75,19.02 135,19.01 135.25,18.99 135.5,18.98 135.75,18.97 136,18.95 136.25,18.94 136.5,18.93 136.75,18.92 137,18.91 137.25,18.9 137.5,18.89 137.75,18.88 138,18.88 138.25,18.87 138.5,18.87 138.75,18.86 139,18.86 139.25,18.85 139.5,18.85 139.75,18.85 140,18.85 140.25,18.84 140.5,18.84 140.75,18.85 141,18.85 141.25,18.85 141.5,18.85 141.75,18.85 142,18.86 142.25,18.86 142.5,18.87 142.75,18.87 143,18.88 143.25,18.89 143.5,18.9 143.75,18.91 144,18.92 144.25,18.93 144.5,18.94 144.75,18.95 145,18.97 145.25,18.98 145.5,19 145.75,19.01 146,19.03 146.25,19.05 146.5,19.07 146.75,19.09 147,19.11 147.25,19.14 147.5,19.16 147.75,19.19 148,19.22 148.25,19.24 148.5,19.28 148.75,19.31 149,19.34 149.25,19.38 149.5,19.41 149.75,19.45 150,19.49 150.25,19.54 150.5,19.58 150.75,19.63 151,19.68 151.25,19.73 151.5,19.79 151.75,19.85 152,19.91 152.25,19.97 152.5,20.04 152.75,20.11 153,20.19 153.25,20.26 153.5,20.35 153.75,20.44 154,20.53 154.25,20.63 154.5,20.73 154.75,20.84 155,20.95 155.25,21.07 155.5,21.2 155.75,21.34 156,21.48 156.25,21.63 156.5,21.8 156.75,21.97 157,22.15 157.25,22.34 157.5,22.55 157.75,22.77 158,23.01 158.25,23.26 158.5,23.53 158.75,23.81 159,24.12 159.25,24.45 159.5,24.81 159.75,25.19 160,25.6 160.25,26.04 160.5,26.52 160.75,27.04 161,27.6 161.25,28.2 161.5,28.86 161.75,29.58 162,30.36 162.25,31.21 162.5,32.13 162.75,33.15 163,34.26 163.25,35.48 163.5,36.82 163.75,38.29 164,39.9 164.25,41.69 164.5,43.65 164.75,45.81 165,48.2 165.25,50.82 165.5,53.7 165.75,56.86 166,60.31 166.25,64.04 166.5,68.05 166.75,72.3 167,76.72 167.25,81.19 167.5,85.51 167.75,89.45 168,92.7 168.25,94.96 168.5,96.03 168.6,97 168.75,95.93 169,94.66 169.25,92.22 169.5,88.84 169.75,84.81 170,80.45 170.25,75.97 170.5,71.57 170.75,67.34 171,63.37 171.25,59.68 171.5,56.27 171.75,53.15 172,50.31 172.25,47.72 172.5,45.36 172.75,43.23 173,41.29 173.25,39.53 173.5,37.93 173.75,36.48 174,35.15 174.25,33.95 174.5,32.85 174.75,31.84 175,30.92 175.25,30.08 175.5,29.3 175.75,28.59 176,27.94 176.25,27.33 176.5,26.77 176.75,26.26 177,25.78 177.25,25.34 177.5,24.93 177.75,24.54 178,24.19 178.25,23.85 178.5,23.54 178.75,23.25 179,22.98 179.25,22.73 179.5,22.49 179.75,22.27 180,22.05 180.25,21.86 180.5,21.67 180.75,21.49 181,21.33 181.25,21.17 181.5,21.02 181.75,20.88 182,20.75 182.25,20.62 182.5,20.51 182.75,20.39 183,20.28 183.25,20.18 183.5,20.09 183.75,19.99 184,19.9 184.25,19.82 184.5,19.74 184.75,19.66 185,19.59 185.25,19.52 185.5,19.46 185.75,19.39 186,19.33 186.25,19.28 186.5,19.22 186.75,19.17 187,19.12 187.25,19.07 187.5,19.02 187.75,18.98 188,18.93 188.25,18.89 188.5,18.86 188.75,18.82 189,18.78 189.25,18.75 189.5,18.72 189.75,18.68 190,18.65 190.25,18.63 190.5,18.6 190.75,18.57 191,18.55 191.25,18.52 191.5,18.5 191.75,18.48 192,18.46 192.25,18.45 192.5,18.45 192.75,18.44 193,18.44 193.25,18.44 193.5,18.44 193.75,18.44 194,18.44 194.25,18.44 194.5,18.44 194.75,18.44 195,18.45 195.25,18.45 195.5,18.46 195.75,18.46 196,18.47 196.25,18.48 196.5,18.49 196.75,18.5 197,18.51 197.25,18.52 197.5,18.53 197.75,18.54 198,18.55 198.25,18.56 198.5,18.58 198.75,18.59 199,18.61 199.25,18.62 199.5,18.64 199.75,18.66 200,18.68 200.25,18.7 200.5,18.72 200.75,18.74 201,18.76 201.25,18.78 201.5,18.8 201.75,18.83 202,18.85 202.25,18.88 202.5,18.9 202.75,18.93 203,18.96 203.25,18.99 203.5,19.02 203.75,19.05 204,19.08 204.25,19.11 204.5,19.15 204.75,19.19 205,19.22 205.25,19.26 205.5,19.3 205.75,19.34 206,19.38 206.25,19.43 206.5,19.47 206.75,19.52 207,19.57 207.25,19.62 207.5,19.67 207.75,19.73 208,19.79 208.25,19.84 208.5,19.91 208.75,19.97 209,20.03 209.25,20.1 209.5,20.18 209.75,20.25 210,20.33 210.25,20.41 210.5,20.49 210.75,20.58 211,20.67 211.25,20.77 211.5,20.87 211.75,20.98 212,21.09 212.25,21.2 212.5,21.32 212.75,21.45 213,21.58 213.25,21.73 213.5,21.87 213.75,22.03 214,22.19 214.25,22.37 214.5,22.55 214.75,22.75 215,22.95 215.25,23.17 215.5,23.4 215.75,23.65 216,23.91 216.25,24.19 216.5,24.49 216.75,24.81 217,25.15 217.25,25.51 217.5,25.9 217.75,26.32 218,26.77 218.25,27.25 218.5,27.78 218.75,28.34 219,28.95 219.25,29.61 219.5,30.33 219.75,31.11 220,31.96 220.25,32.89 220.5,33.9 220.75,35 221,36.21 221.25,37.54 221.5,39 221.75,40.6 222,42.36 222.25,44.3 222.5,46.43 222.75,48.79 223,51.37 223.25,54.22 223.5,57.33 223.75,60.73 224,64.43 224.25,68.4 224.5,72.62 224.75,77.03 225,81.51 225.25,85.9 225.5,89.95 225.75,93.37 226,95.86 226.25,97.19 226.4,97 226.5,97.34 226.75,96.32 227,94.12 227.25,90.91 227.5,87.01 227.75,82.7 228,78.25 228.25,73.83 228.5,69.58 228.75,65.57 229,61.83 229.25,58.38 229.5,55.22 229.75,52.33 230,49.71 230.25,47.32 230.5,45.16 230.75,43.2 231,41.42 231.25,39.8 231.5,38.33 231.75,37 232,35.78 232.25,34.67 232.5,33.65 232.75,32.72 233,31.87 233.25,31.08 233.5,30.37 233.75,29.7 234,29.1 234.25,28.53 234.5,28.02 234.75,27.54 235,27.09 235.25,26.68 235.5,26.3 235.75,25.94 236,25.61 236.25,25.3 236.5,25.01 236.75,24.74 237,24.49 237.25,24.25 237.5,24.03 237.75,23.83 238,23.63 238.25,23.45 238.5,23.27 238.75,23.11 239,22.96 239.25,22.81 239.5,22.68 239.75,22.55 240,22.43 240.25,22.31 240.5,22.2 240.75,22.1 241,22 241.25,21.91 241.5,21.82 241.75,21.74 242,21.66 242.25,21.58 242.5,21.51 242.75,21.44 243,21.38 243.25,21.32 243.5,21.26 243.75,21.2 244,21.15 244.25,21.1 244.5,21.05 244.75,21.01 245,20.96 245.25,20.92 245.5,20.88 245.75,20.84 246,20.81 246.25,20.77 246.5,20.74 246.75,20.71 247,20.68 247.25,20.65 247.5,20.63 247.75,20.6 248,20.58 248.25,20.56 248.5,20.53 248.75,20.51 249,20.49 249.25,20.48 249.5,20.46 249.75,20.44 250,20.43 250.25,20.42 250.5,20.4 250.75,20.39 251,20.38 251.25,20.37 251.5,20.36 251.75,20.35 252,20.34 252.25,20.33 252.5,20.33 252.75,20.32 253,20.32 253.25,20.31 253.5,20.31 253.75,20.3" fill="none" stroke="#684070" stroke-width="1.2" stroke-linejoin="round" clip-path="url(#ca)"/>
<polyline points="58.5,32.06 58.75,31.4 59,30.8 59.25,30.23 59.5,29.71 59.75,29.23 60,28.79 60.25,28.37 60.5,27.99 60.75,27.63 61,27.29 61.25,26.98 61.5,26.68 61.75,26.41 62,26.15 62.25,25.91 62.5,25.68 62.75,25.47 63,25.27 63.25,25.08 63.5,24.9 63.75,24.73 64,24.57 64.25,24.42 64.5,24.28 64.75,24.14 65,24.01 65.25,23.89 65.5,23.77 65.75,23.66 66,23.56 66.25,23.46 66.5,23.36 66.75,23.27 67,23.18 67.25,23.1 67.5,23.02 67.75,22.95 68,22.87 68.25,22.8 68.5,22.74 68.75,22.67 69,22.61 69.25,22.55 69.5,22.5 69.75,22.45 70,22.39 70.25,22.34 70.5,22.3 70.75,22.25 71,22.21 71.25,22.17 71.5,22.13 71.75,22.09 72,22.05 72.25,22.01 72.5,21.98 72.75,21.95 73,21.91 73.25,21.88 73.5,21.85 73.75,21.83 74,21.8 74.25,21.77 74.5,21.75 74.75,21.72 75,21.7 75.25,21.68 75.5,21.66 75.75,21.64 76,21.62 76.25,21.6 76.5,21.58 76.75,21.57 77,21.55 77.25,21.54 77.5,21.52 77.75,21.51 78,21.49 78.25,21.48 78.5,21.47 78.75,21.46 79,21.45 79.25,21.44 79.5,21.43 79.75,21.43 80,21.42 80.25,21.41 80.5,21.4 80.75,21.39 81,21.38 81.25,21.37 81.5,21.36 81.75,21.35 82,21.35 82.25,21.34 82.5,21.34 82.75,21.33 83,21.33 83.25,21.33 83.5,21.33 83.75,21.33 84,21.33 84.25,21.33 84.5,21.33 84.75,21.33 85,21.33 85.25,21.34 85.5,21.34 85.75,21.35 86,21.36 86.25,21.37 86.5,21.38 86.75,21.39 87,21.4 87.25,21.41 87.5,21.43 87.75,21.44 88,21.46 88.25,21.48 88.5,21.49 88.75,21.52 89,21.54 89.25,21.56 89.5,21.59 89.75,21.62 90,21.65 90.25,21.68 90.5,21.71 90.75,21.75 91,21.78 91.25,21.82 91.5,21.87 91.75,21.91 92,21.96 92.25,22.01 92.5,22.06 92.75,22.12 93,22.18 93.25,22.25 93.5,22.32 93.75,22.39 94,22.46 94.25,22.55 94.5,22.63 94.75,22.72 95,22.82 95.25,22.92 95.5,23.03 95.75,23.15 96,23.27 96.25,23.4 96.5,23.54 96.75,23.69 97,23.85 97.25,24.02 97.5,24.2 97.75,24.39 98,24.6 98.25,24.81 98.5,25.05 98.75,25.3 99,25.57 99.25,25.86 99.5,26.17 99.75,26.5 100,26.86 100.25,27.25 100.5,27.67 100.75,28.12 101,28.61 101.25,29.14 101.5,29.71 101.75,30.34 102,31.01 102.25,31.75 102.5,32.56 102.75,33.44 103,34.4 103.25,35.46 103.5,36.61 103.75,37.88 104,39.27 104.25,40.81 104.5,42.5 104.75,44.36 105,46.42 105.25,48.68 105.5,51.17 105.75,53.91 106,56.91 106.25,60.2 106.5,63.77 106.75,67.63 107,71.74 107.25,76.05 107.5,80.46 107.75,84.82 108,88.92 108.25,92.46 108.5,95.16 108.75,96.76 108.97,96.5 109,97.17 109.25,96.46 109.5,94.56 109.75,91.61 110,87.88 110.25,83.67 110.5,79.26 110.75,74.83 111,70.54 111.25,66.47 111.5,62.66 111.75,59.13 112,55.89 112.25,52.93 112.5,50.23 112.75,47.77 113,45.54 113.25,43.51 113.5,41.66 113.75,39.99 114,38.47 114.25,37.08 114.5,35.82 114.75,34.66 115,33.61 115.25,32.65 115.5,31.76 115.75,30.95 116,30.2 116.25,29.52 116.5,28.88 116.75,28.3 117,27.75 117.25,27.25 117.5,26.78 117.75,26.35 118,25.95 118.25,25.57 118.5,25.22 118.75,24.89 119,24.59 119.25,24.3 119.5,24.03 119.75,23.77 120,23.53 120.25,23.31 120.5,23.1 120.75,22.9 121,22.71 121.25,22.53 121.5,22.36 121.75,22.2 122,22.05 122.25,21.9 122.5,21.77 122.75,21.64 123,21.51 123.25,21.39 123.5,21.28 123.75,21.17 124,21.07 124.25,20.97 124.5,20.88 124.75,20.79 125,20.7 125.25,20.62 125.5,20.54 125.75,20.46 126,20.39 126.25,20.32 126.5,20.25 126.75,20.18 127,20.12 127.25,20.06 127.5,20 127.75,19.95 128,19.89 128.25,19.84 128.5,19.79 128.75,19.74 129,19.7 129.25,19.65 129.5,19.61 129.75,19.56 130,19.52 130.25,19.48 130.5,19.45 130.75,19.41 131,19.37 131.25,19.34 131.5,19.31 131.75,19.27 132,19.24 132.25,19.21 132.5,19.18 132.75,19.15 133,19.13 133.25,19.1 133.5,19.07 133.75,19.05 134,19.03 134.25,19.01 134.5,19 134.75,18.99 135,18.97 135.25,18.96 135.5,18.95 135.75,18.94 136,18.93 136.25,18.92 136.5,18.92 136.75,18.91 137,18.9 137.25,18.9 137.5,18.89 137.75,18.89 138,18.88 138.25,18.88 138.5,18.88 138.75,18.88 139,18.88 139.25,18.88 139.5,18.88 139.75,18.88 140,18.88 140.25,18.88 140.5,18.89 140.75,18.89 141,18.89 141.25,18.9 141.5,18.91 141.75,18.91 142,18.92 142.25,18.93 142.5,18.94 142.75,18.95 143,18.96 143.25,18.97 143.5,18.98 143.75,19 144,19.01 144.25,19.03 144.5,19.04 144.75,19.06 145,19.08 145.25,19.1 145.5,19.12 145.75,19.14 146,19.17 146.25,19.19 146.5,19.22 146.75,19.25 147,19.27 147.25,19.3 147.5,19.34 147.75,19.37 148,19.41 148.25,19.44 148.5,19.48 148.75,19.52 149,19.57 149.25,19.61 149.5,19.66 149.75,19.71 150,19.76 150.25,19.82 150.5,19.87 150.75,19.93 151,20 151.25,20.07 151.5,20.14 151.75,20.21 152,20.29 152.25,20.37 152.5,20.46 152.75,20.55 153,20.65 153.25,20.75 153.5,20.86 153.75,20.97 154,21.09 154.25,21.22 154.5,21.36 154.75,21.5 155,21.65 155.25,21.81 155.5,21.98 155.75,22.16 156,22.36 156.25,22.56 156.5,22.78 156.75,23.02 157,23.27 157.25,23.53 157.5,23.82 157.75,24.12 158,24.45 158.25,24.81 158.5,25.18 158.75,25.59 159,26.03 159.25,26.51 159.5,27.02 159.75,27.58 160,28.18 160.25,28.83 160.5,29.54 160.75,30.31 161,31.16 161.25,32.08 161.5,33.08 161.75,34.19 162,35.39 162.25,36.72 162.5,38.18 162.75,39.78 163,41.55 163.25,43.49 163.5,45.64 163.75,48 164,50.59 164.25,53.45 164.5,56.57 164.75,59.98 165,63.68 165.25,67.64 165.5,71.85 165.75,76.23 166,80.65 166.25,84.94 166.5,88.86 166.75,92.11 167,94.41 167.25,95.53 167.37,96.5 167.5,95.51 167.75,94.33 168,91.99 168.25,88.7 168.5,84.75 168.75,80.44 169,76.01 169.25,71.64 169.5,67.43 169.75,63.47 170,59.78 170.25,56.38 170.5,53.26 170.75,50.41 171,47.81 171.25,45.46 171.5,43.32 171.75,41.37 172,39.61 172.25,38.01 172.5,36.55 172.75,35.22 173,34.01 173.25,32.91 173.5,31.9 173.75,30.98 174,30.13 174.25,29.36 174.5,28.64 174.75,27.99 175,27.38 175.25,26.82 175.5,26.3 175.75,25.82 176,25.38 176.25,24.97 176.5,24.58 176.75,24.23 177,23.89 177.25,23.58 177.5,23.29 177.75,23.02 178,22.77 178.25,22.53 178.5,22.3 178.75,22.09 179,21.89 179.25,21.71 179.5,21.53 179.75,21.36 180,21.21 180.25,21.06 180.5,20.92 180.75,20.79 181,20.66 181.25,20.54 181.5,20.43 181.75,20.32 182,20.22 182.25,20.12 182.5,20.03 182.75,19.94 183,19.86 183.25,19.78 183.5,19.7 183.75,19.63 184,19.56 184.25,19.49 184.5,19.43 184.75,19.37 185,19.31 185.25,19.25 185.5,19.2 185.75,19.15 186,19.1 186.25,19.06 186.5,19.01 186.75,18.97 187,18.93 187.25,18.89 187.5,18.85 187.75,18.82 188,18.78 188.25,18.75 188.5,18.72 188.75,18.69 189,18.66 189.25,18.63 189.5,18.6 189.75,18.58 190,18.56 190.25,18.53 190.5,18.51 190.75,18.49 191,18.47 191.25,18.45 191.5,18.43 191.75,18.42 192,18.4 192.25,18.4 192.5,18.4 192.75,18.4 193,18.4 193.25,18.4 193.5,18.41 193.75,18.41 194,18.41 194.25,18.42 194.5,18.43 194.75,18.43 195,18.44 195.25,18.45 195.5,18.46 195.75,18.47 196,18.48 196.25,18.49 196.5,18.5 196.75,18.51 197,18.52 197.25,18.54 197.5,18.55 197.75,18.57 198,18.58 198.25,18.6 198.5,18.62 198.75,18.64 199,18.66 199.25,18.68 199.5,18.7 199.75,18.72 200,18.74 200.25,18.76 200.5,18.79 200.75,18.81 201,18.84 201.25,18.86 201.5,18.89 201.75,18.92 202,18.95 202.25,18.98 202.5,19.01 202.75,19.04 203,19.07 203.25,19.11 203.5,19.14 203.75,19.18 204,19.22 204.25,19.26 204.5,19.3 204.75,19.34 205,19.39 205.25,19.43 205.5,19.48 205.75,19.53 206,19.58 206.25,19.63 206.5,19.68 206.75,19.74 207,19.8 207.25,19.86 207.5,19.92 207.75,19.99 208,20.06 208.25,20.13 208.5,20.2 208.75,20.28 209,20.36 209.25,20.45 209.5,20.53 209.75,20.63 210,20.72 210.25,20.82 210.5,20.93 210.75,21.04 211,21.15 211.25,21.27 211.5,21.4 211.75,21.53 212,21.67 212.25,21.82 212.5,21.98 212.75,22.14 213,22.31 213.25,22.5 213.5,22.69 213.75,22.89 214,23.11 214.25,23.34 214.5,23.59 214.75,23.85 215,24.13 215.25,24.42 215.5,24.74 215.75,25.07 216,25.44 216.25,25.82 216.5,26.24 216.75,26.69 217,27.17 217.25,27.69 217.5,28.25 217.75,28.85 218,29.51 218.25,30.22 218.5,31 218.75,31.84 219,32.76 219.25,33.76 219.5,34.86 219.75,36.06 220,37.37 220.25,38.82 220.5,40.41 220.75,42.15 221,44.07 221.25,46.19 221.5,48.52 221.75,51.08 222,53.89 222.25,56.98 222.5,60.34 222.75,64 223,67.93 223.25,72.1 223.5,76.47 223.75,80.91 224,85.26 224.25,89.29 224.5,92.71 224.75,95.23 225,96.61 225.17,96.5 225.25,96.82 225.5,95.9 225.75,93.79 226,90.68 226.25,86.86 226.5,82.61 226.75,78.21 227,73.82 227.25,69.59 227.5,65.59 227.75,61.86 228,58.41 228.25,55.25 228.5,52.36 228.75,49.73 229,47.35 229.25,45.18 229.5,43.21 229.75,41.43 230,39.81 230.25,38.33 230.5,37 230.75,35.78 231,34.67 231.25,33.66 231.5,32.73 231.75,31.88 232,31.11 232.25,30.39 232.5,29.73 232.75,29.12 233,28.55 233.25,28.03 233.5,27.55 233.75,27.11 234,26.69 234.25,26.31 234.5,25.95 234.75,25.62 235,25.31 235.25,25.02 235.5,24.75 235.75,24.5 236,24.26 236.25,24.04 236.5,23.83 236.75,23.64 237,23.45 237.25,23.28 237.5,23.12 237.75,22.97 238,22.82 238.25,22.68 238.5,22.56 238.75,22.43 239,22.32 239.25,22.21 239.5,22.11 239.75,22.01 240,21.91 240.25,21.83 240.5,21.74 240.75,21.66 241,21.59 241.25,21.52 241.5,21.45 241.75,21.38 242,21.32 242.25,21.26 242.5,21.21 242.75,21.15 243,21.1 243.25,21.06 243.5,21.01 243.75,20.97 244,20.93 244.25,20.89 244.5,20.85 244.75,20.81 245,20.78 245.25,20.75 245.5,20.72 245.75,20.69 246,20.66 246.25,20.63 246.5,20.61 246.75,20.58 247,20.56 247.25,20.54 247.5,20.52 247.75,20.5 248,20.48 248.25,20.46 248.5,20.45 248.75,20.43 249,20.42 249.25,20.41 249.5,20.39 249.75,20.38 250,20.37 250.25,20.36 250.5,20.35 250.75,20.35 251,20.34 251.25,20.33 251.5,20.33 251.75,20.32 252,20.32 252.25,20.31 252.5,20.31 252.75,20.31 253,20.31 253.25,20.31 253.5,20.31 253.75,20.3" fill="none" stroke="#839d5f" stroke-width="1.2" stroke-linejoin="round" clip-path="url(#ca)"/>
<polyline points="58.5,28.51 58.75,28.12 59,27.75 59.25,27.41 59.5,27.09 59.75,26.79 60,26.52 60.25,26.25 60.5,26.01 60.75,25.78 61,25.56 61.25,25.36 61.5,25.17 61.75,24.99 62,24.81 62.25,24.65 62.5,24.5 62.75,24.35 63,24.22 63.25,24.09 63.5,23.96 63.75,23.85 64,23.73 64.25,23.63 64.5,23.53 64.75,23.43 65,23.34 65.25,23.25 65.5,23.17 65.75,23.09 66,23.01 66.25,22.94 66.5,22.87 66.75,22.8 67,22.74 67.25,22.68 67.5,22.62 67.75,22.56 68,22.51 68.25,22.45 68.5,22.4 68.75,22.36 69,22.31 69.25,22.27 69.5,22.22 69.75,22.18 70,22.14 70.25,22.11 70.5,22.07 70.75,22.04 71,22 71.25,21.97 71.5,21.94 71.75,21.91 72,21.88 72.25,21.85 72.5,21.83 72.75,21.8 73,21.78 73.25,21.76 73.5,21.73 73.75,21.71 74,21.69 74.25,21.67 74.5,21.65 74.75,21.64 75,21.62 75.25,21.6 75.5,21.59 75.75,21.57 76,21.56 76.25,21.55 76.5,21.53 76.75,21.52 77,21.51 77.25,21.5 77.5,21.49 77.75,21.48 78,21.48 78.25,21.47 78.5,21.46 78.75,21.46 79,21.45 79.25,21.45 79.5,21.44 79.75,21.44 80,21.44 80.25,21.43 80.5,21.43 80.75,21.42 81,21.42 81.25,21.41 81.5,21.41 81.75,21.41 82,21.41 82.25,21.41 82.5,21.41 82.75,21.41 83,21.41 83.25,21.42 83.5,21.42 83.75,21.42 84,21.43 84.25,21.44 84.5,21.45 84.75,21.45 85,21.46 85.25,21.48 85.5,21.49 85.75,21.5 86,21.52 86.25,21.53 86.5,21.55 86.75,21.57 87,21.59 87.25,21.61 87.5,21.64 87.75,21.66 88,21.69 88.25,21.72 88.5,21.75 88.75,21.78 89,21.82 89.25,21.85 89.5,21.89 89.75,21.94 90,21.98 90.25,22.03 90.5,22.08 90.75,22.13 91,22.19 91.25,22.25 91.5,22.31 91.75,22.38 92,22.45 92.25,22.52 92.5,22.61 92.75,22.69 93,22.78 93.25,22.88 93.5,22.98 93.75,23.08 94,23.2 94.25,23.32 94.5,23.45 94.75,23.59 95,23.73 95.25,23.89 95.5,24.05 95.75,24.23 96,24.42 96.25,24.62 96.5,24.84 96.75,25.07 97,25.31 97.25,25.58 97.5,25.86 97.75,26.17 98,26.5 98.25,26.85 98.5,27.23 98.75,27.64 99,28.08 99.25,28.56 99.5,29.08 99.75,29.64 100,30.25 100.25,30.91 100.5,31.64 100.75,32.42 101,33.28 101.25,34.22 101.5,35.25 101.75,36.38 102,37.62 102.25,38.98 102.5,40.48 102.75,42.13 103,43.94 103.25,45.94 103.5,48.15 103.75,50.58 104,53.25 104.25,56.18 104.5,59.39 104.75,62.88 105,66.65 105.25,70.69 105.5,74.94 105.75,79.31 106,83.68 106.25,87.83 106.5,91.51 106.75,94.41 107,96.28 107.25,96.95 107.28,96.2 107.5,96.53 107.75,94.92 108,92.22 108.25,88.68 108.5,84.59 108.75,80.23 109,75.82 109.25,71.51 109.5,67.4 109.75,63.53 110,59.95 110.25,56.65 110.5,53.63 110.75,50.88 111,48.37 111.25,46.09 111.5,44.02 111.75,42.14 112,40.43 112.25,38.87 112.5,37.46 112.75,36.17 113,34.99 113.25,33.92 113.5,32.93 113.75,32.03 114,31.2 114.25,30.44 114.5,29.74 114.75,29.1 115,28.5 115.25,27.95 115.5,27.44 115.75,26.97 116,26.53 116.25,26.12 116.5,25.73 116.75,25.38 117,25.04 117.25,24.73 117.5,24.44 117.75,24.17 118,23.91 118.25,23.67 118.5,23.44 118.75,23.22 119,23.02 119.25,22.83 119.5,22.65 119.75,22.48 120,22.32 120.25,22.16 120.5,22.02 120.75,21.88 121,21.75 121.25,21.62 121.5,21.5 121.75,21.39 122,21.28 122.25,21.17 122.5,21.07 122.75,20.98 123,20.89 123.25,20.8 123.5,20.72 123.75,20.64 124,20.56 124.25,20.48 124.5,20.41 124.75,20.35 125,20.28 125.25,20.22 125.5,20.16 125.75,20.1 126,20.04 126.25,19.99 126.5,19.93 126.75,19.88 127,19.83 127.25,19.79 127.5,19.74 127.75,19.7 128,19.66 128.25,19.61 128.5,19.57 128.75,19.54 129,19.5 129.25,19.46 129.5,19.43 129.75,19.39 130,19.36 130.25,19.33 130.5,19.3 130.75,19.27 131,19.24 131.25,19.21 131.5,19.19 131.75,19.16 132,19.14 132.25,19.11 132.5,19.09 132.75,19.07 133,19.05 133.25,19.02 133.5,19 133.75,18.98 134,18.97 134.25,18.96 134.5,18.95 134.75,18.94 135,18.93 135.25,18.93 135.5,18.92 135.75,18.92 136,18.91 136.25,18.91 136.5,18.9 136.75,18.9 137,18.9 137.25,18.9 137.5,18.9 137.75,18.9 138,18.9 138.25,18.9 138.5,18.9 138.75,18.91 139,18.91 139.25,18.92 139.5,18.92 139.75,18.93 140,18.93 140.25,18.94 140.5,18.95 140.75,18.96 141,18.97 141.25,18.98 141.5,18.99 141.75,19 142,19.02 142.25,19.03 142.5,19.05 142.75,19.06 143,19.08 143.25,19.1 143.5,19.12 143.75,19.14 144,19.16 144.25,19.18 144.5,19.21 144.75,19.23 145,19.26 145.25,19.29 145.5,19.32 145.75,19.35 146,19.38 146.25,19.42 146.5,19.45 146.75,19.49 147,19.53 147.25,19.58 147.5,19.62 147.75,19.67 148,19.72 148.25,19.77 148.5,19.82 148.75,19.88 149,19.94 149.25,20 149.5,20.07 149.75,20.14 150,20.21 150.25,20.29 150.5,20.37 150.75,20.46 151,20.55 151.25,20.64 151.5,20.75 151.75,20.85 152,20.96 152.25,21.08 152.5,21.21 152.75,21.34 153,21.48 153.25,21.63 153.5,21.79 153.75,21.96 154,22.14 154.25,22.33 154.5,22.53 154.75,22.75 155,22.98 155.25,23.22 155.5,23.48 155.75,23.76 156,24.07 156.25,24.39 156.5,24.73 156.75,25.11 157,25.51 157.25,25.94 157.5,26.4 157.75,26.91 158,27.45 158.25,28.04 158.5,28.68 158.75,29.37 159,30.13 159.25,30.95 159.5,31.85 159.75,32.84 160,33.91 160.25,35.09 160.5,36.39 160.75,37.81 161,39.37 161.25,41.1 161.5,42.99 161.75,45.08 162,47.38 162.25,49.91 162.5,52.7 162.75,55.75 163,59.07 163.25,62.69 163.5,66.58 163.75,70.71 164,75.04 164.25,79.44 164.5,83.75 164.75,87.76 165,91.17 165.25,93.7 165.5,95.1 165.68,96.2 165.75,95.34 166,94.45 166.25,92.4 166.5,89.33 166.75,85.55 167,81.33 167.25,76.93 167.5,72.56 167.75,68.32 168,64.31 168.25,60.57 168.5,57.11 168.75,53.93 169,51.03 169.25,48.38 169.5,45.98 169.75,43.79 170,41.81 170.25,40.01 170.5,38.37 170.75,36.88 171,35.53 171.25,34.29 171.5,33.17 171.75,32.14 172,31.2 172.25,30.34 172.5,29.54 172.75,28.82 173,28.15 173.25,27.53 173.5,26.96 173.75,26.44 174,25.95 174.25,25.5 174.5,25.08 174.75,24.69 175,24.33 175.25,23.99 175.5,23.67 175.75,23.38 176,23.1 176.25,22.84 176.5,22.6 176.75,22.37 177,22.16 177.25,21.96 177.5,21.77 177.75,21.59 178,21.42 178.25,21.26 178.5,21.11 178.75,20.97 179,20.84 179.25,20.71 179.5,20.59 179.75,20.47 180,20.36 180.25,20.26 180.5,20.16 180.75,20.07 181,19.98 181.25,19.9 181.5,19.81 181.75,19.74 182,19.66 182.25,19.59 182.5,19.53 182.75,19.46 183,19.4 183.25,19.34 183.5,19.29 183.75,19.23 184,19.18 184.25,19.13 184.5,19.09 184.75,19.04 185,19 185.25,18.96 185.5,18.92 185.75,18.88 186,18.85 186.25,18.81 186.5,18.78 186.75,18.75 187,18.72 187.25,18.69 187.5,18.66 187.75,18.63 188,18.61 188.25,18.58 188.5,18.56 188.75,18.54 189,18.52 189.25,18.5 189.5,18.48 189.75,18.46 190,18.44 190.25,18.43 190.5,18.41 190.75,18.4 191,18.38 191.25,18.37 191.5,18.36 191.75,18.34 192,18.33 192.25,18.34 192.5,18.34 192.75,18.35 193,18.36 193.25,18.36 193.5,18.37 193.75,18.38 194,18.39 194.25,18.4 194.5,18.41 194.75,18.42 195,18.43 195.25,18.45 195.5,18.46 195.75,18.47 196,18.49 196.25,18.51 196.5,18.52 196.75,18.54 197,18.56 197.25,18.58 197.5,18.6 197.75,18.62 198,18.64 198.25,18.66 198.5,18.68 198.75,18.7 199,18.73 199.25,18.75 199.5,18.78 199.75,18.81 200,18.83 200.25,18.86 200.5,18.89 200.75,18.92 201,18.96 201.25,18.99 201.5,19.02 201.75,19.06 202,19.1 202.25,19.13 202.5,19.17 202.75,19.21 203,19.26 203.25,19.3 203.5,19.34 203.75,19.39 204,19.44 204.25,19.49 204.5,19.54 204.75,19.6 205,19.65 205.25,19.71 205.5,19.77 205.75,19.83 206,19.9 206.25,19.97 206.5,20.04 206.75,20.11 207,20.19 207.25,20.27 207.5,20.35 207.75,20.44 208,20.53 208.25,20.62 208.5,20.72 208.75,20.82 209,20.93 209.25,21.05 209.5,21.17 209.75,21.29 210,21.42 210.25,21.56 210.5,21.71 210.75,21.86 211,22.02 211.25,22.19 211.5,22.37 211.75,22.56 212,22.77 212.25,22.98 212.5,23.21 212.75,23.45 213,23.7 213.25,23.98 213.5,24.27 213.75,24.58 214,24.91 214.25,25.26 214.5,25.65 214.75,26.05 215,26.49 215.25,26.97 215.5,27.47 215.75,28.02 216,28.62 216.25,29.26 216.5,29.96 216.75,30.72 217,31.54 217.25,32.44 217.5,33.42 217.75,34.49 218,35.66 218.25,36.95 218.5,38.36 218.75,39.9 219,41.61 219.25,43.48 219.5,45.54 219.75,47.82 220,50.31 220.25,53.06 220.5,56.07 220.75,59.35 221,62.93 221.25,66.78 221.5,70.88 221.75,75.18 222,79.59 222.25,83.96 222.5,88.06 222.75,91.63 223,94.37 223.25,96.02 223.48,96.2 223.5,96.49 223.75,95.86 224,94.05 224.25,91.18 224.5,87.53 224.75,83.39 225,79.02 225.25,74.65 225.5,70.39 225.75,66.35 226,62.56 226.25,59.06 226.5,55.84 226.75,52.9 227,50.21 227.25,47.78 227.5,45.56 227.75,43.55 228,41.73 228.25,40.08 228.5,38.57 228.75,37.21 229,35.96 229.25,34.83 229.5,33.8 229.75,32.85 230,31.99 230.25,31.2 230.5,30.47 230.75,29.81 231,29.2 231.25,28.63 231.5,28.11 231.75,27.63 232,27.19 232.25,26.77 232.5,26.38 232.75,26.01 233,25.68 233.25,25.36 233.5,25.07 233.75,24.79 234,24.54 234.25,24.3 234.5,24.07 234.75,23.86 235,23.66 235.25,23.48 235.5,23.3 235.75,23.14 236,22.98 236.25,22.83 236.5,22.7 236.75,22.57 237,22.44 237.25,22.33 237.5,22.22 237.75,22.11 238,22.01 238.25,21.92 238.5,21.83 238.75,21.74 239,21.66 239.25,21.59 239.5,21.51 239.75,21.45 240,21.38 240.25,21.32 240.5,21.26 240.75,21.2 241,21.15 241.25,21.1 241.5,21.05 241.75,21 242,20.96 242.25,20.92 242.5,20.88 242.75,20.84 243,20.8 243.25,20.77 243.5,20.74 243.75,20.7 244,20.68 244.25,20.65 244.5,20.62 244.75,20.59 245,20.57 245.25,20.55 245.5,20.53 245.75,20.51 246,20.49 246.25,20.47 246.5,20.45 246.75,20.43 247,20.42 247.25,20.41 247.5,20.39 247.75,20.38 248,20.37 248.25,20.36 248.5,20.35 248.75,20.34 249,20.33 249.25,20.32 249.5,20.32 249.75,20.31 250,20.31 250.25,20.3 250.5,20.3 250.75,20.29 251,20.29 251.25,20.29 251.5,20.29 251.75,20.29 252,20.29 252.25,20.29 252.5,20.29 252.75,20.29 253,20.3 253.25,20.3 253.5,20.31 253.75,20.31" fill="none" stroke="#77b0c8" stroke-width="1.2" stroke-linejoin="round" clip-path="url(#ca)"/>
<polyline points="58.5,26.84 58.75,26.56 59,26.3 59.25,26.05 59.5,25.82 59.75,25.61 60,25.4 60.25,25.21 60.5,25.03 60.75,24.86 61,24.69 61.25,24.54 61.5,24.39 61.75,24.26 62,24.13 62.25,24 62.5,23.88 62.75,23.77 63,23.67 63.25,23.56 63.5,23.47 63.75,23.38 64,23.29 64.25,23.2 64.5,23.12 64.75,23.05 65,22.97 65.25,22.9 65.5,22.84 65.75,22.77 66,22.71 66.25,22.65 66.5,22.6 66.75,22.54 67,22.49 67.25,22.44 67.5,22.39 67.75,22.35 68,22.3 68.25,22.26 68.5,22.22 68.75,22.18 69,22.14 69.25,22.11 69.5,22.07 69.75,22.04 70,22.01 70.25,21.97 70.5,21.95 70.75,21.92 71,21.89 71.25,21.86 71.5,21.84 71.75,21.81 72,21.79 72.25,21.77 72.5,21.75 72.75,21.73 73,21.71 73.25,21.69 73.5,21.67 73.75,21.65 74,21.64 74.25,21.62 74.5,21.61 74.75,21.59 75,21.58 75.25,21.57 75.5,21.56 75.75,21.55 76,21.54 76.25,21.53 76.5,21.52 76.75,21.51 77,21.5 77.25,21.5 77.5,21.49 77.75,21.48 78,21.48 78.25,21.48 78.5,21.47 78.75,21.47 79,21.47 79.25,21.47 79.5,21.47 79.75,21.47 80,21.47 80.25,21.47 80.5,21.47 80.75,21.46 81,21.46 81.25,21.47 81.5,21.47 81.75,21.47 82,21.47 82.25,21.48 82.5,21.48 82.75,21.49 83,21.49 83.25,21.5 83.5,21.51 83.75,21.52 84,21.53 84.25,21.54 84.5,21.56 84.75,21.57 85,21.59 85.25,21.61 85.5,21.63 85.75,21.65 86,21.67 86.25,21.69 86.5,21.72 86.75,21.74 87,21.77 87.25,21.8 87.5,21.84 87.75,21.87 88,21.91 88.25,21.95 88.5,21.99 88.75,22.03 89,22.08 89.25,22.13 89.5,22.18 89.75,22.24 90,22.3 90.25,22.36 90.5,22.43 90.75,22.5 91,22.58 91.25,22.66 91.5,22.74 91.75,22.83 92,22.93 92.25,23.03 92.5,23.13 92.75,23.25 93,23.37 93.25,23.5 93.5,23.63 93.75,23.78 94,23.93 94.25,24.1 94.5,24.27 94.75,24.46 95,24.66 95.25,24.88 95.5,25.11 95.75,25.35 96,25.62 96.25,25.9 96.5,26.2 96.75,26.53 97,26.88 97.25,27.26 97.5,27.66 97.75,28.1 98,28.58 98.25,29.1 98.5,29.65 98.75,30.26 99,30.92 99.25,31.64 99.5,32.42 99.75,33.28 100,34.21 100.25,35.23 100.5,36.35 100.75,37.58 101,38.94 101.25,40.42 101.5,42.06 101.75,43.86 102,45.85 102.25,48.04 102.5,50.45 102.75,53.1 103,56.01 103.25,59.19 103.5,62.66 103.75,66.41 104,70.41 104.25,74.64 104.5,78.99 104.75,83.35 105,87.5 105.25,91.2 105.5,94.14 105.75,96.06 106,96.8 106.05,96 106.25,96.45 106.5,94.92 106.75,92.29 107,88.81 107.25,84.77 107.5,80.44 107.75,76.04 108,71.73 108.25,67.62 108.5,63.75 108.75,60.16 109,56.85 109.25,53.82 109.5,51.06 109.75,48.54 110,46.25 110.25,44.17 110.5,42.28 110.75,40.56 111,39 111.25,37.58 111.5,36.28 111.75,35.1 112,34.02 112.25,33.04 112.5,32.13 112.75,31.3 113,30.54 113.25,29.83 113.5,29.18 113.75,28.59 114,28.03 114.25,27.52 114.5,27.04 114.75,26.6 115,26.19 115.25,25.81 115.5,25.45 115.75,25.12 116,24.8 116.25,24.51 116.5,24.24 116.75,23.98 117,23.74 117.25,23.51 117.5,23.29 117.75,23.09 118,22.9 118.25,22.72 118.5,22.54 118.75,22.38 119,22.23 119.25,22.08 119.5,21.94 119.75,21.81 120,21.68 120.25,21.56 120.5,21.45 120.75,21.34 121,21.23 121.25,21.13 121.5,21.04 121.75,20.95 122,20.86 122.25,20.78 122.5,20.7 122.75,20.62 123,20.55 123.25,20.47 123.5,20.41 123.75,20.34 124,20.28 124.25,20.22 124.5,20.16 124.75,20.1 125,20.05 125.25,19.99 125.5,19.94 125.75,19.89 126,19.85 126.25,19.8 126.5,19.76 126.75,19.71 127,19.67 127.25,19.63 127.5,19.6 127.75,19.56 128,19.52 128.25,19.49 128.5,19.45 128.75,19.42 129,19.39 129.25,19.36 129.5,19.33 129.75,19.3 130,19.27 130.25,19.25 130.5,19.22 130.75,19.2 131,19.17 131.25,19.15 131.5,19.13 131.75,19.1 132,19.08 132.25,19.06 132.5,19.04 132.75,19.02 133,19.01 133.25,18.99 133.5,18.97 133.75,18.96 134,18.94 134.25,18.94 134.5,18.93 134.75,18.93 135,18.92 135.25,18.92 135.5,18.92 135.75,18.92 136,18.91 136.25,18.91 136.5,18.91 136.75,18.91 137,18.92 137.25,18.92 137.5,18.92 137.75,18.93 138,18.93 138.25,18.93 138.5,18.94 138.75,18.95 139,18.95 139.25,18.96 139.5,18.97 139.75,18.98 140,18.99 140.25,19 140.5,19.02 140.75,19.03 141,19.04 141.25,19.06 141.5,19.08 141.75,19.09 142,19.11 142.25,19.13 142.5,19.15 142.75,19.17 143,19.2 143.25,19.22 143.5,19.25 143.75,19.27 144,19.3 144.25,19.33 144.5,19.36 144.75,19.4 145,19.43 145.25,19.47 145.5,19.5 145.75,19.54 146,19.59 146.25,19.63 146.5,19.68 146.75,19.73 147,19.78 147.25,19.83 147.5,19.89 147.75,19.95 148,20.01 148.25,20.08 148.5,20.15 148.75,20.22 149,20.3 149.25,20.38 149.5,20.47 149.75,20.56 150,20.65 150.25,20.75 150.5,20.86 150.75,20.97 151,21.09 151.25,21.21 151.5,21.35 151.75,21.49 152,21.63 152.25,21.79 152.5,21.96 152.75,22.14 153,22.33 153.25,22.53 153.5,22.74 153.75,22.97 154,23.22 154.25,23.48 154.5,23.76 154.75,24.06 155,24.38 155.25,24.72 155.5,25.09 155.75,25.49 156,25.92 156.25,26.38 156.5,26.88 156.75,27.42 157,28.01 157.25,28.64 157.5,29.33 157.75,30.09 158,30.91 158.25,31.8 158.5,32.78 158.75,33.85 159,35.02 159.25,36.3 159.5,37.72 159.75,39.27 160,40.98 160.25,42.86 160.5,44.93 160.75,47.22 161,49.73 161.25,52.49 161.5,55.52 161.75,58.83 162,62.41 162.25,66.28 162.5,70.39 162.75,74.69 163,79.07 163.25,83.38 163.5,87.39 163.75,90.83 164,93.4 164.25,94.87 164.45,96 164.5,95.17 164.75,94.36 165,92.38 165.25,89.39 165.5,85.65 165.75,81.47 166,77.1 166.25,72.74 166.5,68.5 166.75,64.49 167,60.74 167.25,57.27 167.5,54.09 167.75,51.17 168,48.52 168.25,46.1 168.5,43.91 168.75,41.91 169,40.1 169.25,38.46 169.5,36.96 169.75,35.6 170,34.36 170.25,33.23 170.5,32.2 170.75,31.25 171,30.39 171.25,29.59 171.5,28.86 171.75,28.19 172,27.57 172.25,27 172.5,26.47 172.75,25.99 173,25.53 173.25,25.11 173.5,24.72 173.75,24.36 174,24.02 174.25,23.7 174.5,23.4 174.75,23.13 175,22.87 175.25,22.63 175.5,22.4 175.75,22.18 176,21.98 176.25,21.79 176.5,21.61 176.75,21.44 177,21.28 177.25,21.13 177.5,20.99 177.75,20.86 178,20.73 178.25,20.61 178.5,20.49 178.75,20.38 179,20.28 179.25,20.18 179.5,20.09 179.75,20 180,19.91 180.25,19.83 180.5,19.76 180.75,19.68 181,19.61 181.25,19.54 181.5,19.48 181.75,19.42 182,19.36 182.25,19.3 182.5,19.25 182.75,19.2 183,19.15 183.25,19.1 183.5,19.06 183.75,19.02 184,18.98 184.25,18.94 184.5,18.9 184.75,18.86 185,18.83 185.25,18.79 185.5,18.76 185.75,18.73 186,18.7 186.25,18.68 186.5,18.65 186.75,18.62 187,18.6 187.25,18.58 187.5,18.55 187.75,18.53 188,18.51 188.25,18.49 188.5,18.47 188.75,18.46 189,18.44 189.25,18.42 189.5,18.41 189.75,18.4 190,18.38 190.25,18.37 190.5,18.36 190.75,18.35 191,18.34 191.25,18.33 191.5,18.32 191.75,18.31 192,18.31 192.25,18.31 192.5,18.32 192.75,18.33 193,18.34 193.25,18.35 193.5,18.36 193.75,18.38 194,18.39 194.25,18.4 194.5,18.42 194.75,18.43 195,18.45 195.25,18.46 195.5,18.48 195.75,18.5 196,18.52 196.25,18.54 196.5,18.56 196.75,18.58 197,18.6 197.25,18.62 197.5,18.65 197.75,18.67 198,18.7 198.25,18.72 198.5,18.75 198.75,18.78 199,18.81 199.25,18.83 199.5,18.87 199.75,18.9 200,18.93 200.25,18.96 200.5,19 200.75,19.04 201,19.07 201.25,19.11 201.5,19.15 201.75,19.2 202,19.24 202.25,19.28 202.5,19.33 202.75,19.38 203,19.43 203.25,19.48 203.5,19.54 203.75,19.59 204,19.65 204.25,19.71 204.5,19.77 204.75,19.84 205,19.9 205.25,19.97 205.5,20.05 205.75,20.12 206,20.2 206.25,20.29 206.5,20.37 206.75,20.46 207,20.56 207.25,20.66 207.5,20.76 207.75,20.87 208,20.98 208.25,21.1 208.5,21.22 208.75,21.36 209,21.49 209.25,21.64 209.5,21.79 209.75,21.95 210,22.12 210.25,22.3 210.5,22.49 210.75,22.69 211,22.91 211.25,23.13 211.5,23.37 211.75,23.63 212,23.9 212.25,24.19 212.5,24.5 212.75,24.83 213,25.18 213.25,25.56 213.5,25.97 213.75,26.4 214,26.87 214.25,27.38 214.5,27.93 214.75,28.52 215,29.16 215.25,29.85 215.5,30.6 215.75,31.42 216,32.31 216.25,33.29 216.5,34.35 216.75,35.52 217,36.79 217.25,38.19 217.5,39.73 217.75,41.42 218,43.28 218.25,45.33 218.5,47.58 218.75,50.06 219,52.79 219.25,55.78 219.5,59.04 219.75,62.58 220,66.41 220.25,70.49 220.5,74.77 220.75,79.16 221,83.51 221.25,87.62 221.5,91.21 221.75,93.99 222,95.71 222.25,96 222.25,96.24 222.5,95.68 222.75,93.95 223,91.15 223.25,87.55 223.5,83.45 223.75,79.12 224,74.75 224.25,70.5 224.5,66.45 224.75,62.66 225,59.15 225.25,55.92 225.5,52.97 225.75,50.27 226,47.83 226.25,45.6 226.5,43.59 226.75,41.76 227,40.09 227.25,38.58 227.5,37.21 227.75,35.96 228,34.82 228.25,33.79 228.5,32.84 228.75,31.97 229,31.18 229.25,30.45 229.5,29.78 229.75,29.17 230,28.6 230.25,28.08 230.5,27.59 230.75,27.15 231,26.74 231.25,26.35 231.5,26 231.75,25.67 232,25.36 232.25,25.07 232.5,24.79 232.75,24.53 233,24.29 233.25,24.07 233.5,23.86 233.75,23.66 234,23.47 234.25,23.29 234.5,23.13 234.75,22.97 235,22.83 235.25,22.69 235.5,22.56 235.75,22.43 236,22.32 236.25,22.21 236.5,22.1 236.75,22 237,21.91 237.25,21.82 237.5,21.73 237.75,21.65 238,21.58 238.25,21.5 238.5,21.43 238.75,21.37 239,21.31 239.25,21.25 239.5,21.19 239.75,21.14 240,21.09 240.25,21.04 240.5,20.99 240.75,20.95 241,20.9 241.25,20.86 241.5,20.83 241.75,20.79 242,20.76 242.25,20.72 242.5,20.69 242.75,20.66 243,20.63 243.25,20.61 243.5,20.58 243.75,20.56 244,20.53 244.25,20.51 244.5,20.49 244.75,20.47 245,20.45 245.25,20.44 245.5,20.42 245.75,20.41 246,20.39 246.25,20.38 246.5,20.37 246.75,20.35 247,20.34 247.25,20.33 247.5,20.32 247.75,20.32 248,20.31 248.25,20.3 248.5,20.3 248.75,20.29 249,20.29 249.25,20.28 249.5,20.28 249.75,20.28 250,20.28 250.25,20.27 250.5,20.27 250.75,20.27 251,20.28 251.25,20.28 251.5,20.28 251.75,20.28 252,20.29 252.25,20.29 252.5,20.3 252.75,20.3 253,20.31 253.25,20.32 253.5,20.32 253.75,20.33" fill="none" stroke="#722b38" stroke-width="1.2" stroke-linejoin="round" clip-path="url(#ca)"/>
<polyline points="58.5,25.98 58.75,25.76 59,25.55 59.25,25.35 59.5,25.16 59.75,24.98 60,24.81 60.25,24.66 60.5,24.5 60.75,24.36 61,24.23 61.25,24.1 61.5,23.98 61.75,23.86 62,23.75 62.25,23.65 62.5,23.55 62.75,23.45 63,23.36 63.25,23.28 63.5,23.2 63.75,23.12 64,23.04 64.25,22.97 64.5,22.9 64.75,22.83 65,22.77 65.25,22.71 65.5,22.65 65.75,22.6 66,22.54 66.25,22.49 66.5,22.44 66.75,22.4 67,22.35 67.25,22.31 67.5,22.27 67.75,22.23 68,22.19 68.25,22.15 68.5,22.12 68.75,22.08 69,22.05 69.25,22.02 69.5,21.99 69.75,21.96 70,21.93 70.25,21.9 70.5,21.88 70.75,21.85 71,21.83 71.25,21.8 71.5,21.78 71.75,21.76 72,21.74 72.25,21.72 72.5,21.7 72.75,21.69 73,21.67 73.25,21.65 73.5,21.64 73.75,21.63 74,21.61 74.25,21.6 74.5,21.59 74.75,21.58 75,21.56 75.25,21.56 75.5,21.55 75.75,21.54 76,21.53 76.25,21.52 76.5,21.52 76.75,21.51 77,21.51 77.25,21.5 77.5,21.5 77.75,21.5 78,21.49 78.25,21.49 78.5,21.49 78.75,21.49 79,21.49 79.25,21.49 79.5,21.5 79.75,21.5 80,21.5 80.25,21.5 80.5,21.5 80.75,21.51 81,21.51 81.25,21.51 81.5,21.52 81.75,21.52 82,21.53 82.25,21.54 82.5,21.54 82.75,21.55 83,21.56 83.25,21.58 83.5,21.59 83.75,21.6 84,21.62 84.25,21.64 84.5,21.65 84.75,21.67 85,21.69 85.25,21.72 85.5,21.74 85.75,21.77 86,21.79 86.25,21.82 86.5,21.86 86.75,21.89 87,21.92 87.25,21.96 87.5,22 87.75,22.05 88,22.09 88.25,22.14 88.5,22.19 88.75,22.24 89,22.3 89.25,22.36 89.5,22.43 89.75,22.49 90,22.57 90.25,22.64 90.5,22.73 90.75,22.81 91,22.9 91.25,23 91.5,23.1 91.75,23.21 92,23.33 92.25,23.45 92.5,23.58 92.75,23.72 93,23.87 93.25,24.03 93.5,24.2 93.75,24.38 94,24.57 94.25,24.78 94.5,25 94.75,25.23 95,25.49 95.25,25.76 95.5,26.05 95.75,26.36 96,26.69 96.25,27.05 96.5,27.44 96.75,27.86 97,28.31 97.25,28.8 97.5,29.33 97.75,29.91 98,30.54 98.25,31.22 98.5,31.96 98.75,32.77 99,33.65 99.25,34.61 99.5,35.67 99.75,36.83 100,38.1 100.25,39.5 100.5,41.04 100.75,42.74 101,44.61 101.25,46.66 101.5,48.93 101.75,51.43 102,54.17 102.25,57.18 102.5,60.46 102.75,64.03 103,67.86 103.25,71.95 103.5,76.22 103.75,80.58 104,84.87 104.25,88.86 104.5,92.29 104.75,94.85 105,96.32 105.2,95.8 105.25,96.64 105.5,95.85 105.75,93.9 106,90.93 106.25,87.22 106.5,83.05 106.75,78.69 107,74.33 107.25,70.1 107.5,66.09 107.75,62.33 108,58.86 108.25,55.66 108.5,52.74 108.75,50.07 109,47.65 109.25,45.45 109.5,43.44 109.75,41.62 110,39.97 110.25,38.47 110.5,37.1 110.75,35.85 111,34.71 111.25,33.66 111.5,32.71 111.75,31.83 112,31.03 112.25,30.29 112.5,29.61 112.75,28.98 113,28.4 113.25,27.87 113.5,27.37 113.75,26.91 114,26.48 114.25,26.08 114.5,25.7 114.75,25.36 115,25.03 115.25,24.73 115.5,24.44 115.75,24.17 116,23.92 116.25,23.68 116.5,23.46 116.75,23.25 117,23.05 117.25,22.86 117.5,22.69 117.75,22.52 118,22.36 118.25,22.21 118.5,22.06 118.75,21.93 119,21.8 119.25,21.67 119.5,21.56 119.75,21.44 120,21.34 120.25,21.23 120.5,21.14 120.75,21.04 121,20.95 121.25,20.87 121.5,20.78 121.75,20.71 122,20.63 122.25,20.56 122.5,20.49 122.75,20.42 123,20.35 123.25,20.29 123.5,20.23 123.75,20.17 124,20.12 124.25,20.06 124.5,20.01 124.75,19.96 125,19.91 125.25,19.87 125.5,19.82 125.75,19.78 126,19.74 126.25,19.7 126.5,19.66 126.75,19.62 127,19.58 127.25,19.55 127.5,19.51 127.75,19.48 128,19.45 128.25,19.42 128.5,19.39 128.75,19.36 129,19.33 129.25,19.3 129.5,19.28 129.75,19.25 130,19.23 130.25,19.2 130.5,19.18 130.75,19.16 131,19.14 131.25,19.11 131.5,19.09 131.75,19.08 132,19.06 132.25,19.04 132.5,19.02 132.75,19.01 133,18.99 133.25,18.98 133.5,18.96 133.75,18.95 134,18.93 134.25,18.93 134.5,18.93 134.75,18.93 135,18.92 135.25,18.92 135.5,18.92 135.75,18.92 136,18.92 136.25,18.93 136.5,18.93 136.75,18.93 137,18.94 137.25,18.94 137.5,18.95 137.75,18.95 138,18.96 138.25,18.97 138.5,18.98 138.75,18.99 139,19 139.25,19.01 139.5,19.02 139.75,19.03 140,19.05 140.25,19.06 140.5,19.08 140.75,19.09 141,19.11 141.25,19.13 141.5,19.15 141.75,19.17 142,19.19 142.25,19.21 142.5,19.24 142.75,19.27 143,19.29 143.25,19.32 143.5,19.35 143.75,19.38 144,19.42 144.25,19.45 144.5,19.49 144.75,19.53 145,19.57 145.25,19.61 145.5,19.66 145.75,19.71 146,19.76 146.25,19.81 146.5,19.86 146.75,19.92 147,19.98 147.25,20.05 147.5,20.11 147.75,20.18 148,20.26 148.25,20.34 148.5,20.42 148.75,20.51 149,20.6 149.25,20.7 149.5,20.8 149.75,20.91 150,21.02 150.25,21.14 150.5,21.27 150.75,21.41 151,21.55 151.25,21.7 151.5,21.86 151.75,22.03 152,22.22 152.25,22.41 152.5,22.62 152.75,22.84 153,23.07 153.25,23.32 153.5,23.59 153.75,23.87 154,24.18 154.25,24.51 154.5,24.86 154.75,25.24 155,25.65 155.25,26.09 155.5,26.57 155.75,27.08 156,27.64 156.25,28.25 156.5,28.9 156.75,29.61 157,30.39 157.25,31.23 157.5,32.16 157.75,33.17 158,34.27 158.25,35.49 158.5,36.82 158.75,38.28 159,39.89 159.25,41.66 159.5,43.61 159.75,45.76 160,48.12 160.25,50.72 160.5,53.58 160.75,56.7 161,60.11 161.25,63.79 161.5,67.74 161.75,71.92 162,76.25 162.25,80.61 162.5,84.82 162.75,88.63 163,91.75 163.25,93.91 163.5,94.92 163.6,95.8 163.75,94.81 164,93.56 164.25,91.18 164.5,87.89 164.75,83.97 165,79.71 165.25,75.34 165.5,71.03 165.75,66.88 166,62.98 166.25,59.34 166.5,55.99 166.75,52.91 167,50.1 167.25,47.55 167.5,45.22 167.75,43.11 168,41.19 168.25,39.45 168.5,37.86 168.75,36.42 169,35.11 169.25,33.92 169.5,32.82 169.75,31.83 170,30.91 170.25,30.08 170.5,29.31 170.75,28.6 171,27.95 171.25,27.35 171.5,26.8 171.75,26.29 172,25.81 172.25,25.37 172.5,24.96 172.75,24.58 173,24.23 173.25,23.9 173.5,23.59 173.75,23.3 174,23.03 174.25,22.78 174.5,22.54 174.75,22.32 175,22.11 175.25,21.91 175.5,21.73 175.75,21.55 176,21.39 176.25,21.23 176.5,21.09 176.75,20.95 177,20.82 177.25,20.69 177.5,20.57 177.75,20.46 178,20.35 178.25,20.25 178.5,20.15 178.75,20.06 179,19.97 179.25,19.89 179.5,19.81 179.75,19.74 180,19.66 180.25,19.59 180.5,19.53 180.75,19.47 181,19.41 181.25,19.35 181.5,19.29 181.75,19.24 182,19.19 182.25,19.14 182.5,19.1 182.75,19.05 183,19.01 183.25,18.97 183.5,18.93 183.75,18.89 184,18.86 184.25,18.82 184.5,18.79 184.75,18.76 185,18.73 185.25,18.7 185.5,18.67 185.75,18.65 186,18.62 186.25,18.6 186.5,18.58 186.75,18.55 187,18.53 187.25,18.51 187.5,18.5 187.75,18.48 188,18.46 188.25,18.44 188.5,18.43 188.75,18.41 189,18.4 189.25,18.39 189.5,18.38 189.75,18.36 190,18.35 190.25,18.34 190.5,18.34 190.75,18.33 191,18.32 191.25,18.31 191.5,18.31 191.75,18.3 192,18.3 192.25,18.31 192.5,18.32 192.75,18.33 193,18.34 193.25,18.36 193.5,18.37 193.75,18.38 194,18.4 194.25,18.41 194.5,18.43 194.75,18.45 195,18.47 195.25,18.49 195.5,18.51 195.75,18.53 196,18.55 196.25,18.57 196.5,18.59 196.75,18.62 197,18.64 197.25,18.67 197.5,18.69 197.75,18.72 198,18.75 198.25,18.78 198.5,18.81 198.75,18.84 199,18.87 199.25,18.9 199.5,18.94 199.75,18.97 200,19.01 200.25,19.05 200.5,19.09 200.75,19.13 201,19.17 201.25,19.22 201.5,19.26 201.75,19.31 202,19.36 202.25,19.41 202.5,19.46 202.75,19.52 203,19.57 203.25,19.63 203.5,19.69 203.75,19.76 204,19.82 204.25,19.89 204.5,19.96 204.75,20.04 205,20.11 205.25,20.19 205.5,20.28 205.75,20.37 206,20.46 206.25,20.55 206.5,20.65 206.75,20.76 207,20.87 207.25,20.99 207.5,21.11 207.75,21.23 208,21.37 208.25,21.51 208.5,21.65 208.75,21.81 209,21.97 209.25,22.15 209.5,22.33 209.75,22.53 210,22.73 210.25,22.95 210.5,23.18 210.75,23.42 211,23.69 211.25,23.96 211.5,24.26 211.75,24.58 212,24.92 212.25,25.28 212.5,25.67 212.75,26.08 213,26.53 213.25,27.02 213.5,27.54 213.75,28.1 214,28.71 214.25,29.37 214.5,30.08 214.75,30.86 215,31.7 215.25,32.62 215.5,33.63 215.75,34.73 216,35.93 216.25,37.25 216.5,38.7 216.75,40.29 217,42.04 217.25,43.97 217.5,46.09 217.75,48.43 218,50.99 218.25,53.81 218.5,56.89 218.75,60.26 219,63.9 219.25,67.81 219.5,71.97 219.75,76.29 220,80.67 220.25,84.94 220.5,88.86 220.75,92.16 221,94.55 221.25,95.81 221.4,95.8 221.5,95.93 221.75,94.93 222,92.78 222.25,89.66 222.5,85.86 222.75,81.66 223,77.31 223.25,72.98 223.5,68.82 223.75,64.87 224,61.2 224.25,57.8 224.5,54.68 224.75,51.84 225,49.24 225.25,46.89 225.5,44.75 225.75,42.81 226,41.04 226.25,39.44 226.5,37.99 226.75,36.67 227,35.46 227.25,34.37 227.5,33.37 227.75,32.45 228,31.61 228.25,30.85 228.5,30.14 228.75,29.49 229,28.9 229.25,28.35 229.5,27.84 229.75,27.38 230,26.94 230.25,26.54 230.5,26.17 230.75,25.83 231,25.5 231.25,25.21 231.5,24.93 231.75,24.67 232,24.43 232.25,24.19 232.5,23.97 232.75,23.77 233,23.57 233.25,23.39 233.5,23.22 233.75,23.06 234,22.9 234.25,22.76 234.5,22.63 234.75,22.5 235,22.38 235.25,22.26 235.5,22.15 235.75,22.05 236,21.95 236.25,21.86 236.5,21.77 236.75,21.69 237,21.61 237.25,21.54 237.5,21.47 237.75,21.4 238,21.33 238.25,21.27 238.5,21.21 238.75,21.16 239,21.11 239.25,21.06 239.5,21.01 239.75,20.96 240,20.92 240.25,20.88 240.5,20.84 240.75,20.8 241,20.77 241.25,20.73 241.5,20.7 241.75,20.67 242,20.64 242.25,20.61 242.5,20.59 242.75,20.56 243,20.54 243.25,20.52 243.5,20.49 243.75,20.47 244,20.46 244.25,20.44 244.5,20.42 244.75,20.41 245,20.39 245.25,20.38 245.5,20.36 245.75,20.35 246,20.34 246.25,20.33 246.5,20.32 246.75,20.31 247,20.3 247.25,20.3 247.5,20.29 247.75,20.28 248,20.28 248.25,20.28 248.5,20.27 248.75,20.27 249,20.27 249.25,20.27 249.5,20.26 249.75,20.26 250,20.27 250.25,20.27 250.5,20.27 250.75,20.27 251,20.27 251.25,20.28 251.5,20.28 251.75,20.29 252,20.3 252.25,20.3 252.5,20.31 252.75,20.32 253,20.33 253.25,20.34 253.5,20.35 253.75,20.35" fill="none" stroke="#b03cb0" stroke-width="1.3" stroke-linejoin="round" clip-path="url(#ca)"/>
<rect x="155.5" y="78.5" width="26" height="29" fill="none" stroke="#111" stroke-width="1.5" stroke-dasharray="1.6,1.4"/>
<polyline points="310.5,21.53 311,21.62 311.5,21.77 312,21.95 312.5,22.13 313,22.28 313.5,22.37 314,22.4 314.5,22.39 315,22.36 315.5,22.33 316,22.31 316.5,22.3 317,22.29 317.5,22.25 318,22.19 318.5,22.12 319,22.07 319.5,22.07 320,22.15 320.5,22.3 321,22.52 321.5,22.77 322,23.02 322.5,23.24 323,23.41 323.5,23.51 324,23.54 324.5,23.49 325,23.39 325.5,23.25 326,23.12 326.5,23.02 327,22.95 327.5,22.89 328,22.83 328.5,22.75 329,22.65 329.5,22.58 330,22.58 330.5,22.66 331,22.81 331.5,22.99 332,23.16 332.5,23.27 333,23.33 333.5,23.33 334,23.29 334.5,23.25 335,23.21 335.5,23.18 336,23.17 336.5,23.18 337,23.2 337.5,23.2 338,23.2 338.5,23.17 339,23.13 339.5,23.09 340,23.08 340.5,23.09 341,23.14 341.5,23.21 342,23.29 342.5,23.36 343,23.43 343.5,23.49 344,23.56 344.5,23.62 345,23.68 345.5,23.73 346,23.78 346.5,23.83 347,23.91 347.5,24.02 348,24.16 348.5,24.31 349,24.45 349.5,24.57 350,24.67 350.5,24.77 351,24.86 351.5,24.95 352,25.02 352.5,25.07 353,25.1 353.5,25.09 354,25.07 354.5,25.04 355,25.03 355.5,25.05 356,25.12 356.5,25.23 357,25.39 357.5,25.57 358,25.77 358.5,25.94 359,26.07 359.5,26.13 360,26.11 360.5,26.01 361,25.86 361.5,25.69 362,25.56 362.5,25.49 363,25.5 363.5,25.59 364,25.75 364.5,25.94 365,26.16 365.5,26.4 366,26.66 366.5,26.95 367,27.26 367.5,27.56 368,27.83 368.5,28.02 369,28.13 369.5,28.16 370,28.13 370.5,28.1 371,28.12 371.5,28.2 372,28.34 372.5,28.52 373,28.71 373.5,28.87 374,28.99 374.5,29.06 375,29.09 375.5,29.1 376,29.11 376.5,29.12 377,29.15 377.5,29.24 378,29.41 378.5,29.66 379,29.97 379.5,30.31 380,30.62 380.5,30.88 381,31.09 381.5,31.26 382,31.42 382.5,31.6 383,31.83 383.5,32.11 384,32.41 384.5,32.71 385,32.96 385.5,33.15 386,33.29 386.5,33.4 387,33.52 387.5,33.69 388,33.94 388.5,34.26 389,34.66 389.5,35.1 390,35.56 390.5,36.03 391,36.5 391.5,36.98 392,37.48 392.5,38.01 393,38.54 393.5,39.05 394,39.5 394.5,39.88 395,40.18 395.5,40.41 396,40.61 396.5,40.81 397,41.04 397.5,41.31 398,41.64 398.5,42.01 399,42.41 399.5,42.86 400,43.35 400.5,43.89 401,44.48 401.5,45.11 402,45.76 402.5,46.41 403,47.05 403.5,47.68 404,48.31 404.5,48.94 405,49.59 405.5,50.29 406,51.02 406.5,51.82 407,52.66 407.5,53.56 408,54.5 408.5,55.47 409,56.42 409.5,57.33 410,58.18 410.5,58.99 411,59.77 411.5,60.56 412,61.4 412.5,62.3 413,63.25 413.5,64.25 414,65.29 414.5,66.35 415,67.43 415.5,68.52 416,69.6 416.5,70.66 417,71.68 417.5,72.68 418,73.67 418.5,74.68 419,75.74 419.5,76.87 420,78.06 420.5,79.29 421,80.56 421.5,81.85 422,83.12 422.5,84.37 423,85.6 423.5,86.81 424,87.98 424.5,89.12 425,90.19 425.5,91.2 426,92.12 426.5,92.97 427,93.77 427.5,94.57 428,95.47 428.5,96.43 429,97.41 429.5,98.38 430,99.31 430.5,100.18 431,101 431,101 431.5,100.16 432,99.32 432.5,98.47 433,97.59 433.5,96.7 434,95.82 434.5,94.96 435,94.13 435.5,93.3 436,92.42 436.5,91.51 437,90.56 437.5,89.62 438,88.69 438.5,87.78 439,86.9 439.5,86.01 440,85.1 440.5,84.13 441,83.1 441.5,82 442,80.85 442.5,79.65 443,78.42 443.5,77.16 444,75.89 444.5,74.62 445,73.38 445.5,72.17 446,70.99 446.5,69.82 447,68.64 447.5,67.43 448,66.19 448.5,64.95 449,63.74 449.5,62.58 450,61.51 450.5,60.52 451,59.58 451.5,58.68 452,57.79 452.5,56.89 453,55.99 453.5,55.06 454,54.11 454.5,53.13 455,52.15 455.5,51.18 456,50.24 456.5,49.34 457,48.5 457.5,47.72 458,46.98 458.5,46.29 459,45.59 459.5,44.87 460,44.11 460.5,43.3 461,42.49 461.5,41.69 462,40.96 462.5,40.31 463,39.76 463.5,39.29 464,38.9 464.5,38.56 465,38.24 465.5,37.93 466,37.63 466.5,37.32 467,37.01 467.5,36.67 468,36.29 468.5,35.85 469,35.33 469.5,34.76 470,34.18 470.5,33.62 471,33.12 471.5,32.69 472,32.32 472.5,31.98 473,31.66 473.5,31.35 474,31.08 474.5,30.85 475,30.68 475.5,30.57 476,30.5 476.5,30.42 477,30.3 477.5,30.12 478,29.85 478.5,29.52 479,29.17 479.5,28.84 480,28.56 480.5,28.36 481,28.21 481.5,28.09 482,27.94 482.5,27.74 483,27.47 483.5,27.17 484,26.88 484.5,26.64 485,26.48 485.5,26.4 486,26.35 486.5,26.28 487,26.16 487.5,25.98 488,25.75 488.5,25.52 489,25.31 489.5,25.16 490,25.07 490.5,25 491,24.94 491.5,24.85 492,24.74 492.5,24.61 493,24.45 493.5,24.28 494,24.12 494.5,23.99 495,23.91 495.5,23.89 496,23.92 496.5,23.99 497,24.08 497.5,24.18 498,24.25 498.5,24.31 499,24.34 499.5,24.32 500,24.27 500.5,24.17 501,24.05 501.5,23.92 502,23.8 502.5,23.7 503,23.62 503.5,23.55 504,23.5 504.5,23.45 505,23.39 505.5,23.34" fill="none" stroke="#0072BD" stroke-width="1.35" stroke-linejoin="round" clip-path="url(#cb)"/>
<circle cx="431" cy="100.7" r="1.6" fill="#0072BD"/>
<polyline points="310.5,22.32 311,22.38 311.5,22.46 312,22.55 312.5,22.65 313,22.75 313.5,22.81 314,22.81 314.5,22.73 315,22.6 315.5,22.46 316,22.37 316.5,22.36 317,22.46 317.5,22.63 318,22.83 318.5,23.03 319,23.2 319.5,23.35 320,23.45 320.5,23.5 321,23.48 321.5,23.37 322,23.21 322.5,23.03 323,22.93 323.5,22.95 324,23.11 324.5,23.37 325,23.65 325.5,23.86 326,23.95 326.5,23.9 327,23.76 327.5,23.58 328,23.42 328.5,23.33 329,23.31 329.5,23.35 330,23.44 330.5,23.54 331,23.64 331.5,23.69 332,23.71 332.5,23.69 333,23.66 333.5,23.64 334,23.66 334.5,23.72 335,23.8 335.5,23.87 336,23.9 336.5,23.85 337,23.74 337.5,23.59 338,23.46 338.5,23.4 339,23.44 339.5,23.58 340,23.79 340.5,23.99 341,24.14 341.5,24.22 342,24.23 342.5,24.22 343,24.23 343.5,24.28 344,24.36 344.5,24.44 345,24.48 345.5,24.47 346,24.43 346.5,24.42 347,24.45 347.5,24.54 348,24.68 348.5,24.82 349,24.95 349.5,25.06 350,25.18 350.5,25.31 351,25.48 351.5,25.67 352,25.87 352.5,26.05 353,26.19 353.5,26.3 354,26.4 354.5,26.5 355,26.61 355.5,26.73 356,26.84 356.5,26.89 357,26.88 357.5,26.82 358,26.73 358.5,26.66 359,26.66 359.5,26.74 360,26.89 360.5,27.09 361,27.3 361.5,27.52 362,27.72 362.5,27.91 363,28.1 363.5,28.27 364,28.43 364.5,28.55 365,28.65 365.5,28.75 366,28.87 366.5,29.02 367,29.2 367.5,29.41 368,29.63 368.5,29.85 369,30.04 369.5,30.2 370,30.32 370.5,30.42 371,30.54 371.5,30.68 372,30.86 372.5,31.07 373,31.3 373.5,31.51 374,31.68 374.5,31.81 375,31.89 375.5,31.95 376,32.02 376.5,32.14 377,32.36 377.5,32.69 378,33.11 378.5,33.57 379,34.02 379.5,34.42 380,34.75 380.5,35 381,35.19 381.5,35.35 382,35.5 382.5,35.67 383,35.88 383.5,36.16 384,36.51 384.5,36.94 385,37.43 385.5,37.96 386,38.5 386.5,39.05 387,39.56 387.5,40.02 388,40.43 388.5,40.79 389,41.14 389.5,41.52 390,41.97 390.5,42.51 391,43.11 391.5,43.75 392,44.38 392.5,44.97 393,45.51 393.5,45.99 394,46.44 394.5,46.88 395,47.32 395.5,47.8 396,48.33 396.5,48.92 397,49.57 397.5,50.27 398,51.02 398.5,51.8 399,52.6 399.5,53.41 400,54.21 400.5,54.99 401,55.75 401.5,56.49 402,57.23 402.5,58.01 403,58.84 403.5,59.77 404,60.78 404.5,61.87 405,62.99 405.5,64.1 406,65.15 406.5,66.12 407,67.01 407.5,67.85 408,68.7 408.5,69.6 409,70.59 409.5,71.65 410,72.77 410.5,73.88 411,74.95 411.5,75.96 412,76.92 412.5,77.85 413,78.78 413.5,79.75 414,80.78 414.5,81.89 415,83.06 415.5,84.29 416,85.53 416.5,86.79 417,88.02 417.5,89.22 418,90.36 418.5,91.43 419,92.42 419.5,93.33 420,94.17 420.5,94.94 421,95.7 421.5,96.47 422,97.26 422.5,98.05 423,98.83 423.5,99.6 423.5,99.6 424,98.79 424.5,97.98 425,97.13 425.5,96.22 426,95.21 426.5,94.1 427,92.92 427.5,91.83 428,90.8 428.5,89.82 429,88.89 429.5,88 430,87.13 430.5,86.25 431,85.33 431.5,84.35 432,83.29 432.5,82.17 433,81.02 433.5,79.87 434,78.76 434.5,77.7 435,76.65 435.5,75.59 436,74.48 436.5,73.31 437,72.09 437.5,70.84 438,69.61 438.5,68.4 439,67.24 439.5,66.11 440,65.02 440.5,63.99 441,63.02 441.5,62.11 442,61.24 442.5,60.38 443,59.49 443.5,58.57 444,57.63 444.5,56.7 445,55.79 445.5,54.92 446,54.07 446.5,53.24 447,52.43 447.5,51.65 448,50.9 448.5,50.18 449,49.48 449.5,48.77 450,48.03 450.5,47.23 451,46.39 451.5,45.54 452,44.73 452.5,44 453,43.39 453.5,42.88 454,42.46 454.5,42.08 455,41.7 455.5,41.31 456,40.89 456.5,40.43 457,39.94 457.5,39.42 458,38.88 458.5,38.33 459,37.79 459.5,37.28 460,36.79 460.5,36.35 461,35.97 461.5,35.64 462,35.36 462.5,35.11 463,34.89 463.5,34.68 464,34.46 464.5,34.22 465,33.94 465.5,33.65 466,33.36 466.5,33.08 467,32.84 467.5,32.62 468,32.41 468.5,32.16 469,31.86 469.5,31.49 470,31.07 470.5,30.66 471,30.28 471.5,29.97 472,29.75 472.5,29.58 473,29.46 473.5,29.36 474,29.27 474.5,29.17 475,29.05 475.5,28.91 476,28.74 476.5,28.54 477,28.32 477.5,28.08 478,27.86 478.5,27.67 479,27.53 479.5,27.46 480,27.45 480.5,27.47 481,27.49 481.5,27.47 482,27.4 482.5,27.26 483,27.07 483.5,26.87 484,26.67 484.5,26.49 485,26.33 485.5,26.18 486,26.03 486.5,25.88 487,25.74 487.5,25.61 488,25.5 488.5,25.42 489,25.33 489.5,25.24 490,25.13 490.5,25 491,24.89 491.5,24.8 492,24.77 492.5,24.8 493,24.89 493.5,25 494,25.11 494.5,25.19 495,25.24 495.5,25.24 496,25.18 496.5,25.07 497,24.9 497.5,24.69 498,24.45 498.5,24.19 499,23.93 499.5,23.69 500,23.49 500.5,23.32 501,23.2 501.5,23.12 502,23.08 502.5,23.06 503,23.06 503.5,23.06 504,23.07 504.5,23.09 505,23.15 505.5,23.24" fill="none" stroke="#D95319" stroke-width="1.35" stroke-linejoin="round" clip-path="url(#cb)"/>
<circle cx="423.5" cy="99.3" r="1.6" fill="#D95319"/>
<polyline points="310.5,25.44 311,25.53 311.5,25.59 312,25.61 312.5,25.57 313,25.48 313.5,25.37 314,25.31 314.5,25.34 315,25.47 315.5,25.66 316,25.85 316.5,25.98 317,26.02 317.5,25.95 318,25.82 318.5,25.66 319,25.52 319.5,25.42 320,25.39 320.5,25.41 321,25.46 321.5,25.53 322,25.57 322.5,25.58 323,25.55 323.5,25.51 324,25.44 324.5,25.37 325,25.31 325.5,25.24 326,25.19 326.5,25.17 327,25.19 327.5,25.28 328,25.45 328.5,25.71 329,26.03 329.5,26.37 330,26.7 330.5,26.97 331,27.16 331.5,27.27 332,27.3 332.5,27.3 333,27.26 333.5,27.19 334,27.09 334.5,26.97 335,26.86 335.5,26.79 336,26.79 336.5,26.86 337,26.99 337.5,27.16 338,27.33 338.5,27.5 339,27.66 339.5,27.82 340,27.97 340.5,28.1 341,28.19 341.5,28.25 342,28.27 342.5,28.3 343,28.35 343.5,28.45 344,28.59 344.5,28.75 345,28.91 345.5,29.04 346,29.12 346.5,29.16 347,29.16 347.5,29.15 348,29.14 348.5,29.16 349,29.23 349.5,29.35 350,29.5 350.5,29.67 351,29.84 351.5,30.01 352,30.17 352.5,30.35 353,30.55 353.5,30.79 354,31.07 354.5,31.39 355,31.72 355.5,32.07 356,32.42 356.5,32.72 357,32.95 357.5,33.08 358,33.1 358.5,33.07 359,33.02 359.5,33.03 360,33.13 360.5,33.33 361,33.61 361.5,33.95 362,34.3 362.5,34.62 363,34.88 363.5,35.09 364,35.27 364.5,35.44 365,35.64 365.5,35.88 366,36.18 366.5,36.52 367,36.91 367.5,37.31 368,37.72 368.5,38.12 369,38.51 369.5,38.86 370,39.17 370.5,39.44 371,39.67 371.5,39.91 372,40.18 372.5,40.5 373,40.89 373.5,41.31 374,41.74 374.5,42.15 375,42.53 375.5,42.9 376,43.28 376.5,43.69 377,44.16 377.5,44.7 378,45.29 378.5,45.9 379,46.51 379.5,47.08 380,47.61 380.5,48.13 381,48.67 381.5,49.28 382,49.95 382.5,50.68 383,51.42 383.5,52.15 384,52.82 384.5,53.45 385,54.04 385.5,54.59 386,55.11 386.5,55.59 387,56.05 387.5,56.54 388,57.11 388.5,57.79 389,58.59 389.5,59.49 390,60.43 390.5,61.39 391,62.32 391.5,63.23 392,64.13 392.5,65.02 393,65.92 393.5,66.8 394,67.66 394.5,68.52 395,69.39 395.5,70.29 396,71.26 396.5,72.28 397,73.34 397.5,74.4 398,75.43 398.5,76.42 399,77.38 399.5,78.32 400,79.28 400.5,80.25 401,81.23 401.5,82.21 402,83.14 402.5,83.98 403,84.73 403.5,85.42 404,86.08 404.5,86.77 405,87.56 405.5,88.44 406,89.39 406.5,90.43 407,91.49 407.5,92.5 408,93.47 408.5,94.41 409,95.33 409.5,96.23 409.7,96.6 410,95.99 410.5,94.99 411,93.99 411.5,92.99 412,92.02 412.5,91.07 413,90.17 413.5,89.34 414,88.54 414.5,87.75 415,86.97 415.5,86.2 416,85.43 416.5,84.64 417,83.81 417.5,82.95 418,82.07 418.5,81.17 419,80.3 419.5,79.45 420,78.63 420.5,77.8 421,76.93 421.5,76 422,75 422.5,73.96 423,72.93 423.5,71.96 424,71.07 424.5,70.26 425,69.52 425.5,68.82 426,68.12 426.5,67.38 427,66.6 427.5,65.77 428,64.9 428.5,64.04 429,63.19 429.5,62.37 430,61.55 430.5,60.71 431,59.83 431.5,58.91 432,57.95 432.5,56.97 433,55.98 433.5,55.01 434,54.05 434.5,53.11 435,52.17 435.5,51.23 436,50.31 436.5,49.4 437,48.53 437.5,47.7 438,46.94 438.5,46.24 439,45.6 439.5,44.98 440,44.39 440.5,43.8 441,43.25 441.5,42.74 442,42.29 442.5,41.91 443,41.55 443.5,41.19 444,40.77 444.5,40.26 445,39.65 445.5,38.99 446,38.3 446.5,37.63 447,37.02 447.5,36.45 448,35.93 448.5,35.44 449,34.99 449.5,34.57 450,34.19 450.5,33.85 451,33.56 451.5,33.29 452,33.06 452.5,32.85 453,32.65 453.5,32.45 454,32.24 454.5,32.01 455,31.76 455.5,31.5 456,31.23 456.5,30.97 457,30.71 457.5,30.45 458,30.18 458.5,29.91 459,29.64 459.5,29.4 460,29.19 460.5,29.01 461,28.87 461.5,28.74 462,28.59 462.5,28.42 463,28.24 463.5,28.07 464,27.92 464.5,27.81 465,27.72 465.5,27.62 466,27.5 466.5,27.34 467,27.13 467.5,26.88 468,26.61 468.5,26.34 469,26.13 469.5,25.99 470,25.95 470.5,25.99 471,26.07 471.5,26.15 472,26.19 472.5,26.17 473,26.1 473.5,26.01 474,25.94 474.5,25.91 475,25.92 475.5,25.93 476,25.92 476.5,25.87 477,25.77 477.5,25.67 478,25.6 478.5,25.61 479,25.74 479.5,25.94 480,26.17 480.5,26.35 481,26.43 481.5,26.39 482,26.25 482.5,26.07 483,25.91 483.5,25.79 484,25.7 484.5,25.61 485,25.5 485.5,25.36 486,25.19 486.5,25.03 487,24.9 487.5,24.82 488,24.79 488.5,24.79 489,24.8 489.5,24.79 490,24.75 490.5,24.67 491,24.57 491.5,24.44 492,24.32 492.5,24.22 493,24.15 493.5,24.11 494,24.1 494.5,24.11 495,24.12 495.5,24.13 496,24.15 496.5,24.18 497,24.21 497.5,24.24 498,24.27 498.5,24.3 499,24.31 499.5,24.31 500,24.29 500.5,24.23 501,24.13 501.5,23.97 502,23.78 502.5,23.56 503,23.35 503.5,23.18 504,23.08 504.5,23.06 505,23.12 505.5,23.25" fill="none" stroke="#EDB120" stroke-width="1.35" stroke-linejoin="round" clip-path="url(#cb)"/>
<circle cx="409.7" cy="96.3" r="1.6" fill="#EDB120"/>
<polyline points="310.5,26.51 311,26.57 311.5,26.65 312,26.72 312.5,26.78 313,26.86 313.5,26.96 314,27.11 314.5,27.28 315,27.44 315.5,27.54 316,27.57 316.5,27.54 317,27.49 317.5,27.44 318,27.43 318.5,27.47 319,27.53 319.5,27.59 320,27.63 320.5,27.65 321,27.68 321.5,27.73 322,27.84 322.5,28 323,28.18 323.5,28.36 324,28.48 324.5,28.53 325,28.5 325.5,28.44 326,28.38 326.5,28.36 327,28.4 327.5,28.5 328,28.64 328.5,28.81 329,29 329.5,29.18 330,29.34 330.5,29.49 331,29.6 331.5,29.68 332,29.72 332.5,29.75 333,29.76 333.5,29.8 334,29.88 334.5,30.03 335,30.23 335.5,30.47 336,30.7 336.5,30.88 337,31.01 337.5,31.1 338,31.18 338.5,31.28 339,31.4 339.5,31.55 340,31.7 340.5,31.84 341,31.94 341.5,32 342,32.02 342.5,32.03 343,32.05 343.5,32.12 344,32.26 344.5,32.46 345,32.7 345.5,32.95 346,33.17 346.5,33.33 347,33.43 347.5,33.51 348,33.56 348.5,33.63 349,33.72 349.5,33.84 350,34.01 350.5,34.24 351,34.52 351.5,34.86 352,35.21 352.5,35.55 353,35.87 353.5,36.17 354,36.46 354.5,36.77 355,37.11 355.5,37.5 356,37.92 356.5,38.34 357,38.72 357.5,39.04 358,39.33 358.5,39.6 359,39.89 359.5,40.24 360,40.62 360.5,41.02 361,41.37 361.5,41.66 362,41.88 362.5,42.06 363,42.23 363.5,42.44 364,42.71 364.5,43.06 365,43.47 365.5,43.92 366,44.4 366.5,44.89 367,45.38 367.5,45.87 368,46.33 368.5,46.79 369,47.23 369.5,47.68 370,48.14 370.5,48.61 371,49.08 371.5,49.55 372,50 372.5,50.47 373,50.97 373.5,51.52 374,52.13 374.5,52.77 375,53.42 375.5,54.09 376,54.77 376.5,55.48 377,56.24 377.5,57.06 378,57.91 378.5,58.76 379,59.6 379.5,60.4 380,61.13 380.5,61.8 381,62.42 381.5,63.03 382,63.66 382.5,64.32 383,65.04 383.5,65.8 384,66.59 384.5,67.39 385,68.18 385.5,68.96 386,69.76 386.5,70.58 387,71.44 387.5,72.34 388,73.28 388.5,74.24 389,75.22 389.5,76.18 390,77.14 390.5,78.08 391,79.01 391.5,79.96 392,80.93 392.5,81.95 393,83.01 393.5,84.09 394,85.17 394.5,86.24 395,87.26 395.5,88.23 396,89.13 396.5,89.97 397,90.68 397.5,91.35 398,92.03 398.5,92.74 399,93.51 399.5,94.34 400,95.23 400.2,95.6 400.5,94.91 401,93.79 401.5,92.71 402,91.69 402.5,90.74 403,89.87 403.5,89.13 404,88.51 404.5,87.96 405,87.44 405.5,86.92 406,86.34 406.5,85.67 407,84.87 407.5,83.98 408,83.01 408.5,82.02 409,81.04 409.5,80.09 410,79.16 410.5,78.24 411,77.31 411.5,76.38 412,75.45 412.5,74.54 413,73.63 413.5,72.73 414,71.81 414.5,70.88 415,69.94 415.5,69.01 416,68.09 416.5,67.2 417,66.34 417.5,65.5 418,64.66 418.5,63.83 419,63 419.5,62.14 420,61.26 420.5,60.33 421,59.36 421.5,58.35 422,57.3 422.5,56.24 423,55.18 423.5,54.13 424,53.12 424.5,52.16 425,51.24 425.5,50.35 426,49.48 426.5,48.61 427,47.76 427.5,46.92 428,46.09 428.5,45.28 429,44.52 429.5,43.82 430,43.19 430.5,42.61 431,42.05 431.5,41.48 432,40.88 432.5,40.22 433,39.54 433.5,38.84 434,38.18 434.5,37.59 435,37.09 435.5,36.69 436,36.36 436.5,36.08 437,35.83 437.5,35.59 438,35.36 438.5,35.11 439,34.83 439.5,34.49 440,34.08 440.5,33.61 441,33.1 441.5,32.6 442,32.13 442.5,31.69 443,31.3 443.5,30.93 444,30.58 444.5,30.24 445,29.92 445.5,29.61 446,29.3 446.5,28.99 447,28.64 447.5,28.25 448,27.81 448.5,27.36 449,26.95 449.5,26.63 450,26.44 450.5,26.4 451,26.46 451.5,26.6 452,26.76 452.5,26.9 453,26.97 453.5,26.96 454,26.87 454.5,26.71 455,26.49 455.5,26.24 456,25.99 456.5,25.75 457,25.56 457.5,25.4 458,25.27 458.5,25.17 459,25.08 459.5,25 460,24.92 460.5,24.84 461,24.79 461.5,24.76 462,24.76 462.5,24.79 463,24.84 463.5,24.89 464,24.94 464.5,24.98 465,25.04 465.5,25.11 466,25.22 466.5,25.35 467,25.49 467.5,25.62 468,25.72 468.5,25.78 469,25.77 469.5,25.68 470,25.51 470.5,25.28 471,25 471.5,24.73 472,24.48 472.5,24.28 473,24.11 473.5,23.96 474,23.82 474.5,23.69 475,23.58 475.5,23.51 476,23.48 476.5,23.48 477,23.51 477.5,23.53 478,23.55 478.5,23.54 479,23.51 479.5,23.45 480,23.37 480.5,23.3 481,23.26 481.5,23.27 482,23.35 482.5,23.47 483,23.6 483.5,23.73 484,23.81 484.5,23.84 485,23.82 485.5,23.76 486,23.68 486.5,23.58 487,23.5 487.5,23.45 488,23.43 488.5,23.46 489,23.51 489.5,23.56 490,23.59 490.5,23.58 491,23.52 491.5,23.42 492,23.3 492.5,23.19 493,23.1 493.5,23.06 494,23.07 494.5,23.11 495,23.15 495.5,23.15 496,23.1 496.5,23 497,22.87 497.5,22.75 498,22.68 498.5,22.68 499,22.75 499.5,22.86 500,23 500.5,23.14 501,23.25 501.5,23.33 502,23.38 502.5,23.41 503,23.44 503.5,23.49 504,23.53 504.5,23.53 505,23.49 505.5,23.36" fill="none" stroke="#7E2F8E" stroke-width="1.35" stroke-linejoin="round" clip-path="url(#cb)"/>
<circle cx="400.2" cy="95.3" r="1.6" fill="#7E2F8E"/>
<polyline points="310.5,27.29 311,27.32 311.5,27.36 312,27.44 312.5,27.53 313,27.63 313.5,27.71 314,27.77 314.5,27.79 315,27.79 315.5,27.77 316,27.76 316.5,27.76 317,27.79 317.5,27.84 318,27.89 318.5,27.94 319,27.98 319.5,28 320,28.01 320.5,28.01 321,28.01 321.5,28.02 322,28.06 322.5,28.15 323,28.32 323.5,28.56 324,28.87 324.5,29.19 325,29.46 325.5,29.64 326,29.73 326.5,29.74 327,29.74 327.5,29.78 328,29.9 328.5,30.1 329,30.36 329.5,30.63 330,30.88 330.5,31.09 331,31.26 331.5,31.39 332,31.5 332.5,31.62 333,31.76 333.5,31.93 334,32.13 334.5,32.33 335,32.51 335.5,32.67 336,32.8 336.5,32.92 337,33.08 337.5,33.27 338,33.51 338.5,33.78 339,34.03 339.5,34.22 340,34.34 340.5,34.37 341,34.35 341.5,34.32 342,34.33 342.5,34.43 343,34.62 343.5,34.87 344,35.16 344.5,35.45 345,35.73 345.5,36.02 346,36.34 346.5,36.67 347,37.02 347.5,37.35 348,37.65 348.5,37.91 349,38.16 349.5,38.43 350,38.76 350.5,39.13 351,39.54 351.5,39.96 352,40.36 352.5,40.72 353,41.07 353.5,41.39 354,41.71 354.5,42.01 355,42.3 355.5,42.59 356,42.9 356.5,43.26 357,43.72 357.5,44.27 358,44.91 358.5,45.58 359,46.24 359.5,46.84 360,47.35 360.5,47.79 361,48.19 361.5,48.58 362,49 362.5,49.46 363,50 363.5,50.6 364,51.27 364.5,52 365,52.75 365.5,53.51 366,54.26 366.5,54.99 367,55.69 367.5,56.4 368,57.12 368.5,57.87 369,58.63 369.5,59.37 370,60.05 370.5,60.67 371,61.22 371.5,61.74 372,62.25 372.5,62.79 373,63.37 373.5,64.02 374,64.76 374.5,65.59 375,66.51 375.5,67.5 376,68.52 376.5,69.57 377,70.6 377.5,71.63 378,72.65 378.5,73.65 379,74.64 379.5,75.61 380,76.58 380.5,77.53 381,78.47 381.5,79.4 382,80.3 382.5,81.16 383,81.97 383.5,82.74 384,83.46 384.5,84.17 385,84.89 385.5,85.65 386,86.45 386.5,87.26 387,88.07 387.5,88.92 388,89.77 388.5,90.62 389,91.48 389.5,92.35 390,93.22 390.5,94.07 390.7,94.4 391,93.79 391.5,92.83 392,91.95 392.5,91.1 393,90.23 393.5,89.32 394,88.37 394.5,87.46 395,86.61 395.5,85.83 396,85.08 396.5,84.31 397,83.48 397.5,82.6 398,81.69 398.5,80.77 399,79.88 399.5,79.02 400,78.21 400.5,77.43 401,76.67 401.5,75.9 402,75.1 402.5,74.26 403,73.4 403.5,72.52 404,71.66 404.5,70.81 405,69.97 405.5,69.1 406,68.15 406.5,67.09 407,65.92 407.5,64.67 408,63.39 408.5,62.15 409,60.99 409.5,59.92 410,58.94 410.5,58.02 411,57.14 411.5,56.26 412,55.41 412.5,54.57 413,53.76 413.5,52.96 414,52.16 414.5,51.34 415,50.47 415.5,49.57 416,48.65 416.5,47.76 417,46.92 417.5,46.19 418,45.55 418.5,44.98 419,44.43 419.5,43.86 420,43.22 420.5,42.51 421,41.74 421.5,40.95 422,40.17 422.5,39.45 423,38.78 423.5,38.19 424,37.66 424.5,37.2 425,36.79 425.5,36.43 426,36.08 426.5,35.71 427,35.31 427.5,34.85 428,34.32 428.5,33.74 429,33.14 429.5,32.56 430,32.04 430.5,31.58 431,31.19 431.5,30.88 432,30.63 432.5,30.43 433,30.24 433.5,30.02 434,29.74 434.5,29.38 435,28.97 435.5,28.55 436,28.21 436.5,27.96 437,27.8 437.5,27.69 438,27.59 438.5,27.48 439,27.37 439.5,27.28 440,27.22 440.5,27.18 441,27.15 441.5,27.08 442,26.93 442.5,26.69 443,26.37 443.5,26.01 444,25.67 444.5,25.41 445,25.24 445.5,25.18 446,25.16 446.5,25.15 447,25.1 447.5,25 448,24.88 448.5,24.75 449,24.65 449.5,24.59 450,24.55 450.5,24.52 451,24.5 451.5,24.5 452,24.51 452.5,24.54 453,24.58 453.5,24.6 454,24.56 454.5,24.45 455,24.28 455.5,24.07 456,23.88 456.5,23.73 457,23.64 457.5,23.63 458,23.67 458.5,23.72 459,23.74 459.5,23.69 460,23.54 460.5,23.31 461,23.04 461.5,22.79 462,22.62 462.5,22.54 463,22.54 463.5,22.6 464,22.68 464.5,22.77 465,22.85 465.5,22.93 466,22.99 466.5,23.03 467,23.03 467.5,23 468,22.93 468.5,22.86 469,22.81 469.5,22.81 470,22.83 470.5,22.88 471,22.92 471.5,22.91 472,22.84 472.5,22.7 473,22.5 473.5,22.28 474,22.06 474.5,21.9 475,21.81 475.5,21.79 476,21.81 476.5,21.86 477,21.91 477.5,21.96 478,21.99 478.5,22 479,22 479.5,21.99 480,21.98 480.5,21.98 481,21.98 481.5,21.99 482,22 482.5,22 483,21.97 483.5,21.91 484,21.8 484.5,21.65 485,21.5 485.5,21.36 486,21.26 486.5,21.19 487,21.15 487.5,21.12 488,21.11 488.5,21.11 489,21.14 489.5,21.21 490,21.29 490.5,21.38 491,21.46 491.5,21.51 492,21.54 492.5,21.55 493,21.54 493.5,21.51 494,21.48 494.5,21.47 495,21.47 495.5,21.52 496,21.59 496.5,21.68 497,21.76 497.5,21.8 498,21.79 498.5,21.75 499,21.69 499.5,21.63 500,21.6 500.5,21.6 501,21.61 501.5,21.62 502,21.62 502.5,21.61 503,21.59 503.5,21.59 504,21.6 504.5,21.63 505,21.66 505.5,21.67" fill="none" stroke="#77AC30" stroke-width="1.35" stroke-linejoin="round" clip-path="url(#cb)"/>
<circle cx="390.7" cy="94.1" r="1.6" fill="#77AC30"/>
<polyline points="310.5,28.45 311,28.8 311.5,29.17 312,29.53 312.5,29.85 313,30.14 313.5,30.37 314,30.57 314.5,30.75 315,30.92 315.5,31.09 316,31.27 316.5,31.45 317,31.62 317.5,31.78 318,31.92 318.5,32.05 319,32.19 319.5,32.34 320,32.51 320.5,32.69 321,32.88 321.5,33.05 322,33.21 322.5,33.35 323,33.46 323.5,33.57 324,33.67 324.5,33.8 325,33.98 325.5,34.24 326,34.57 326.5,34.96 327,35.35 327.5,35.7 328,35.99 328.5,36.19 329,36.33 329.5,36.46 330,36.62 330.5,36.84 331,37.13 331.5,37.48 332,37.87 332.5,38.29 333,38.72 333.5,39.17 334,39.64 334.5,40.13 335,40.64 335.5,41.16 336,41.66 336.5,42.11 337,42.5 337.5,42.81 338,43.05 338.5,43.23 339,43.36 339.5,43.48 340,43.61 340.5,43.78 341,44.03 341.5,44.38 342,44.82 342.5,45.34 343,45.9 343.5,46.45 344,46.93 344.5,47.31 345,47.6 345.5,47.85 346,48.14 346.5,48.51 347,49.03 347.5,49.69 348,50.49 348.5,51.35 349,52.19 349.5,52.96 350,53.61 350.5,54.15 351,54.63 351.5,55.08 352,55.56 352.5,56.08 353,56.63 353.5,57.19 354,57.75 354.5,58.3 355,58.83 355.5,59.38 356,59.97 356.5,60.64 357,61.39 357.5,62.22 358,63.11 358.5,64.02 359,64.94 359.5,65.85 360,66.74 360.5,67.59 361,68.38 361.5,69.11 362,69.77 362.5,70.38 363,70.96 363.5,71.56 364,72.22 364.5,72.96 365,73.79 365.5,74.67 366,75.56 366.5,76.41 367,77.19 367.5,77.91 368,78.58 368.5,79.26 369,80 369.5,80.8 370,81.69 370.5,82.63 371,83.58 371.5,84.52 372,85.43 372.5,86.29 373,87.12 373.5,87.93 374,88.72 374.5,89.51 375,90.31 375.5,91.13 376,91.97 376.5,92.82 377,93.66 377.5,94.48 378,95.25 378.5,96 378.5,96 379,95.04 379.5,94.08 380,93.08 380.5,92.01 381,90.87 381.5,89.72 382,88.66 382.5,87.72 383,86.87 383.5,86.09 384,85.35 384.5,84.61 385,83.85 385.5,83.04 386,82.16 386.5,81.2 387,80.16 387.5,79.09 388,78 388.5,76.95 389,75.93 389.5,74.94 390,73.94 390.5,72.91 391,71.84 391.5,70.76 392,69.69 392.5,68.67 393,67.7 393.5,66.79 394,65.9 394.5,65.04 395,64.21 395.5,63.41 396,62.65 396.5,61.91 397,61.17 397.5,60.38 398,59.53 398.5,58.61 399,57.62 399.5,56.58 400,55.52 400.5,54.45 401,53.42 401.5,52.47 402,51.61 402.5,50.85 403,50.18 403.5,49.54 404,48.93 404.5,48.33 405,47.76 405.5,47.23 406,46.75 406.5,46.31 407,45.86 407.5,45.38 408,44.84 408.5,44.25 409,43.61 409.5,42.97 410,42.35 410.5,41.76 411,41.22 411.5,40.73 412,40.29 412.5,39.89 413,39.48 413.5,39.03 414,38.52 414.5,37.95 415,37.36 415.5,36.81 416,36.34 416.5,35.98 417,35.72 417.5,35.52 418,35.33 418.5,35.12 419,34.86 419.5,34.57 420,34.26 420.5,33.95 421,33.63 421.5,33.29 422,32.9 422.5,32.47 423,32.01 423.5,31.52 424,31.04 424.5,30.57 425,30.14 425.5,29.75 426,29.43 426.5,29.2 427,29.04 427.5,28.95 428,28.88 428.5,28.8 429,28.7 429.5,28.56 430,28.41 430.5,28.24 431,28.07 431.5,27.9 432,27.75 432.5,27.62 433,27.52 433.5,27.44 434,27.36 434.5,27.29 435,27.2 435.5,27.1 436,26.97 436.5,26.83 437,26.67 437.5,26.51 438,26.36 438.5,26.22 439,26.09 439.5,25.96 440,25.83 440.5,25.71 441,25.57 441.5,25.41 442,25.22 442.5,24.98 443,24.68 443.5,24.33 444,23.96 444.5,23.58 445,23.25 445.5,22.98 446,22.81 446.5,22.73 447,22.76 447.5,22.83 448,22.92 448.5,22.99 449,23 449.5,22.97 450,22.91 450.5,22.87 451,22.85 451.5,22.87 452,22.91 452.5,22.96 453,23.01 453.5,23.03 454,23.02 454.5,22.96 455,22.85 455.5,22.71 456,22.55 456.5,22.39 457,22.24 457.5,22.13 458,22.06 458.5,22.02 459,22 459.5,21.98 460,21.96 460.5,21.93 461,21.88 461.5,21.82 462,21.73 462.5,21.64 463,21.53 463.5,21.44 464,21.38 464.5,21.37 465,21.41 465.5,21.5 466,21.59 466.5,21.66 467,21.68 467.5,21.65 468,21.57 468.5,21.48 469,21.39 469.5,21.31 470,21.24 470.5,21.18 471,21.12 471.5,21.06 472,21.01 472.5,20.96 473,20.93 473.5,20.92 474,20.92 474.5,20.93 475,20.94 475.5,20.93 476,20.9 476.5,20.84 477,20.77 477.5,20.68 478,20.6 478.5,20.52 479,20.45 479.5,20.4 480,20.37 480.5,20.37 481,20.38 481.5,20.42 482,20.47 482.5,20.52 483,20.58 483.5,20.63 484,20.68 484.5,20.72 485,20.75 485.5,20.77 486,20.76 486.5,20.71 487,20.63 487.5,20.54 488,20.44 488.5,20.37 489,20.31 489.5,20.29 490,20.28 490.5,20.27 491,20.26 491.5,20.23 492,20.19 492.5,20.14 493,20.09 493.5,20.06 494,20.05 494.5,20.05 495,20.07 495.5,20.09 496,20.12 496.5,20.15 497,20.17 497.5,20.19 498,20.19 498.5,20.17 499,20.15 499.5,20.13 500,20.12 500.5,20.11 501,20.11 501.5,20.11 502,20.11 502.5,20.11 503,20.09 503.5,20.07 504,20.04 504.5,20.02 505,20 505.5,19.98" fill="none" stroke="#4DBEEE" stroke-width="1.35" stroke-linejoin="round" clip-path="url(#cb)"/>
<circle cx="378.5" cy="95.7" r="1.6" fill="#4DBEEE"/>
<polyline points="310.5,29.18 311,29.44 311.5,29.72 312,29.98 312.5,30.22 313,30.44 313.5,30.63 314,30.81 314.5,30.99 315,31.17 315.5,31.34 316,31.5 316.5,31.62 317,31.72 317.5,31.79 318,31.89 318.5,32.04 319,32.24 319.5,32.51 320,32.81 320.5,33.11 321,33.4 321.5,33.66 322,33.89 322.5,34.12 323,34.35 323.5,34.62 324,34.94 324.5,35.33 325,35.79 325.5,36.3 326,36.83 326.5,37.35 327,37.82 327.5,38.25 328,38.62 328.5,38.95 329,39.26 329.5,39.55 330,39.85 330.5,40.16 331,40.47 331.5,40.78 332,41.09 332.5,41.42 333,41.77 333.5,42.19 334,42.67 334.5,43.21 335,43.79 335.5,44.37 336,44.93 336.5,45.47 337,45.98 337.5,46.49 338,47.03 338.5,47.6 339,48.19 339.5,48.81 340,49.43 340.5,50.05 341,50.67 341.5,51.3 342,51.94 342.5,52.58 343,53.24 343.5,53.89 344,54.53 344.5,55.15 345,55.75 345.5,56.34 346,56.96 346.5,57.62 347,58.32 347.5,59.06 348,59.84 348.5,60.64 349,61.49 349.5,62.37 350,63.29 350.5,64.2 351,65.09 351.5,65.93 352,66.73 352.5,67.52 353,68.33 353.5,69.17 354,70.02 354.5,70.89 355,71.76 355.5,72.64 356,73.55 356.5,74.49 357,75.47 357.5,76.49 358,77.51 358.5,78.51 359,79.47 359.5,80.4 360,81.31 360.5,82.21 361,83.1 361.5,83.97 362,84.81 362.5,85.58 363,86.28 363.5,86.93 364,87.57 364.5,88.25 365,88.99 365.5,89.8 366,90.68 366.5,91.58 367,92.47 367.5,93.36 368,94.24 368.5,95.12 369,96 369,96 369.5,95.01 370,94.05 370.5,93.11 371,92.18 371.5,91.26 372,90.37 372.5,89.52 373,88.71 373.5,87.92 374,87.12 374.5,86.31 375,85.48 375.5,84.61 376,83.69 376.5,82.74 377,81.75 377.5,80.75 378,79.78 378.5,78.84 379,77.94 379.5,77.08 380,76.23 380.5,75.36 381,74.45 381.5,73.52 382,72.57 382.5,71.61 383,70.65 383.5,69.69 384,68.72 384.5,67.72 385,66.69 385.5,65.64 386,64.58 386.5,63.54 387,62.55 387.5,61.63 388,60.78 388.5,59.99 389,59.26 389.5,58.57 390,57.91 390.5,57.29 391,56.7 391.5,56.1 392,55.45 392.5,54.72 393,53.86 393.5,52.9 394,51.87 394.5,50.83 395,49.83 395.5,48.92 396,48.12 396.5,47.41 397,46.76 397.5,46.13 398,45.49 398.5,44.81 399,44.1 399.5,43.39 400,42.69 400.5,42.04 401,41.46 401.5,40.94 402,40.5 402.5,40.13 403,39.83 403.5,39.56 404,39.29 404.5,38.97 405,38.57 405.5,38.11 406,37.61 406.5,37.11 407,36.64 407.5,36.23 408,35.84 408.5,35.49 409,35.14 409.5,34.78 410,34.4 410.5,34 411,33.57 411.5,33.14 412,32.72 412.5,32.36 413,32.07 413.5,31.85 414,31.7 414.5,31.58 415,31.48 415.5,31.36 416,31.22 416.5,31.05 417,30.86 417.5,30.67 418,30.47 418.5,30.26 419,30.04 419.5,29.79 420,29.52 420.5,29.23 421,28.94 421.5,28.68 422,28.47 422.5,28.29 423,28.14 423.5,27.99 424,27.83 424.5,27.65 425,27.46 425.5,27.26 426,27.04 426.5,26.82 427,26.58 427.5,26.31 428,26.03 428.5,25.75 429,25.49 429.5,25.24 430,25.02 430.5,24.83 431,24.68 431.5,24.55 432,24.46 432.5,24.4 433,24.34 433.5,24.26 434,24.15 434.5,23.99 435,23.81 435.5,23.62 436,23.44 436.5,23.31 437,23.22 437.5,23.19 438,23.2 438.5,23.23 439,23.27 439.5,23.27 440,23.23 440.5,23.15 441,23.04 441.5,22.93 442,22.84 442.5,22.77 443,22.7 443.5,22.6 444,22.46 444.5,22.29 445,22.1 445.5,21.93 446,21.81 446.5,21.74 447,21.73 447.5,21.75 448,21.8 448.5,21.85 449,21.89 449.5,21.9 450,21.88 450.5,21.84 451,21.79 451.5,21.74 452,21.7 452.5,21.69 453,21.7 453.5,21.71 454,21.72 454.5,21.71 455,21.68 455.5,21.62 456,21.55 456.5,21.46 457,21.38 457.5,21.29 458,21.22 458.5,21.15 459,21.08 459.5,21.02 460,20.97 460.5,20.92 461,20.9 461.5,20.89 462,20.9 462.5,20.9 463,20.9 463.5,20.89 464,20.88 464.5,20.87 465,20.87 465.5,20.89 466,20.92 466.5,20.95 467,20.97 467.5,20.96 468,20.92 468.5,20.84 469,20.72 469.5,20.59 470,20.47 470.5,20.36 471,20.29 471.5,20.23 472,20.2 472.5,20.17 473,20.14 473.5,20.11 474,20.07 474.5,20.03 475,20 475.5,19.96 476,19.93 476.5,19.91 477,19.91 477.5,19.91 478,19.9 478.5,19.9 479,19.88 479.5,19.86 480,19.83 480.5,19.8 481,19.78 481.5,19.77 482,19.75 482.5,19.75 483,19.74 483.5,19.73 484,19.72 484.5,19.71 485,19.7 485.5,19.69 486,19.68 486.5,19.67 487,19.67 487.5,19.66 488,19.66 488.5,19.65 489,19.64 489.5,19.63 490,19.63 490.5,19.63 491,19.64 491.5,19.66 492,19.67 492.5,19.68 493,19.69 493.5,19.68 494,19.66 494.5,19.65 495,19.64 495.5,19.65 496,19.66 496.5,19.67 497,19.68 497.5,19.67 498,19.65 498.5,19.63 499,19.59 499.5,19.56 500,19.52 500.5,19.5 501,19.48 501.5,19.46 502,19.45 502.5,19.44 503,19.42 503.5,19.4 504,19.38 504.5,19.37 505,19.35 505.5,19.35" fill="none" stroke="#A2142F" stroke-width="1.35" stroke-linejoin="round" clip-path="url(#cb)"/>
<circle cx="369" cy="95.7" r="1.6" fill="#A2142F"/>
<polyline points="310.5,32.16 311,32.39 311.5,32.62 312,32.84 312.5,33.07 313,33.29 313.5,33.49 314,33.66 314.5,33.83 315,34.01 315.5,34.23 316,34.5 316.5,34.84 317,35.23 317.5,35.63 318,36.01 318.5,36.36 319,36.67 319.5,36.96 320,37.25 320.5,37.57 321,37.93 321.5,38.35 322,38.81 322.5,39.29 323,39.78 323.5,40.21 324,40.57 324.5,40.82 325,40.98 325.5,41.07 326,41.15 326.5,41.26 327,41.48 327.5,41.82 328,42.31 328.5,42.9 329,43.55 329.5,44.19 330,44.79 330.5,45.33 331,45.86 331.5,46.4 332,46.98 332.5,47.58 333,48.18 333.5,48.74 334,49.23 334.5,49.66 335,50.06 335.5,50.48 336,50.97 336.5,51.52 337,52.14 337.5,52.8 338,53.48 338.5,54.18 339,54.92 339.5,55.69 340,56.5 340.5,57.33 341,58.16 341.5,58.96 342,59.73 342.5,60.46 343,61.15 343.5,61.85 344,62.56 344.5,63.32 345,64.11 345.5,64.94 346,65.79 346.5,66.66 347,67.53 347.5,68.42 348,69.33 348.5,70.28 349,71.24 349.5,72.2 350,73.12 350.5,74 351,74.83 351.5,75.63 352,76.43 352.5,77.27 353,78.17 353.5,79.14 354,80.17 354.5,81.23 355,82.31 355.5,83.38 356,84.43 356.5,85.45 357,86.45 357.5,87.42 358,88.33 358.5,89.2 359,90.01 359.5,90.76 360,91.51 360.5,92.29 361,93.1 361.5,93.96 362,94.86 362.5,95.8 362.6,96 363,95.09 363.5,93.97 364,92.89 364.5,91.88 365,90.96 365.5,90.12 366,89.38 366.5,88.68 367,87.96 367.5,87.2 368,86.41 368.5,85.61 369,84.81 369.5,84.03 370,83.28 370.5,82.56 371,81.87 371.5,81.19 372,80.52 372.5,79.84 373,79.16 373.5,78.46 374,77.75 374.5,77.01 375,76.23 375.5,75.4 376,74.5 376.5,73.55 377,72.58 377.5,71.62 378,70.69 378.5,69.82 379,69.01 379.5,68.25 380,67.51 380.5,66.78 381,66.03 381.5,65.24 382,64.43 382.5,63.58 383,62.72 383.5,61.84 384,60.94 384.5,60.02 385,59.08 385.5,58.1 386,57.08 386.5,56.03 387,54.96 387.5,53.93 388,52.96 388.5,52.1 389,51.33 389.5,50.61 390,49.89 390.5,49.13 391,48.32 391.5,47.45 392,46.56 392.5,45.66 393,44.77 393.5,43.91 394,43.12 394.5,42.4 395,41.78 395.5,41.23 396,40.72 396.5,40.21 397,39.68 397.5,39.12 398,38.53 398.5,37.93 399,37.32 399.5,36.71 400,36.08 400.5,35.44 401,34.79 401.5,34.14 402,33.52 402.5,32.95 403,32.45 403.5,32.03 404,31.68 404.5,31.38 405,31.13 405.5,30.9 406,30.68 406.5,30.48 407,30.26 407.5,30.01 408,29.72 408.5,29.38 409,28.99 409.5,28.58 410,28.17 410.5,27.79 411,27.46 411.5,27.18 412,26.95 412.5,26.76 413,26.6 413.5,26.46 414,26.34 414.5,26.22 415,26.11 415.5,25.99 416,25.86 416.5,25.68 417,25.47 417.5,25.23 418,24.98 418.5,24.75 419,24.56 419.5,24.4 420,24.25 420.5,24.12 421,23.99 421.5,23.88 422,23.8 422.5,23.75 423,23.74 423.5,23.75 424,23.76 424.5,23.78 425,23.8 425.5,23.84 426,23.88 426.5,23.9 427,23.85 427.5,23.73 428,23.53 428.5,23.29 429,23.01 429.5,22.73 430,22.45 430.5,22.18 431,21.93 431.5,21.73 432,21.57 432.5,21.46 433,21.39 433.5,21.36 434,21.37 434.5,21.44 435,21.56 435.5,21.7 436,21.82 436.5,21.9 437,21.9 437.5,21.83 438,21.7 438.5,21.56 439,21.43 439.5,21.34 440,21.28 440.5,21.25 441,21.23 441.5,21.21 442,21.18 442.5,21.13 443,21.07 443.5,21.01 444,20.94 444.5,20.89 445,20.86 445.5,20.84 446,20.85 446.5,20.85 447,20.85 447.5,20.83 448,20.79 448.5,20.75 449,20.71 449.5,20.68 450,20.68 450.5,20.7 451,20.73 451.5,20.76 452,20.77 452.5,20.76 453,20.72 453.5,20.66 454,20.58 454.5,20.5 455,20.42 455.5,20.36 456,20.31 456.5,20.27 457,20.24 457.5,20.23 458,20.21 458.5,20.21 459,20.22 459.5,20.24 460,20.27 460.5,20.32 461,20.37 461.5,20.43 462,20.48 462.5,20.51 463,20.51 463.5,20.5 464,20.48 464.5,20.45 465,20.42 465.5,20.41 466,20.41 466.5,20.43 467,20.44 467.5,20.45 468,20.46 468.5,20.44 469,20.41 469.5,20.36 470,20.31 470.5,20.25 471,20.21 471.5,20.18 472,20.16 472.5,20.15 473,20.14 473.5,20.14 474,20.13 474.5,20.13 475,20.12 475.5,20.11 476,20.11 476.5,20.1 477,20.09 477.5,20.08 478,20.08 478.5,20.08 479,20.08 479.5,20.08 480,20.09 480.5,20.08 481,20.08 481.5,20.06 482,20.04 482.5,20.01 483,19.98 483.5,19.96 484,19.94 484.5,19.93 485,19.91 485.5,19.89 486,19.87 486.5,19.84 487,19.82 487.5,19.81 488,19.81 488.5,19.83 489,19.84 489.5,19.87 490,19.89 490.5,19.92 491,19.95 491.5,19.97 492,19.99 492.5,20 493,20.01 493.5,20.01 494,20 494.5,19.98 495,19.95 495.5,19.91 496,19.86 496.5,19.81 497,19.76 497.5,19.74 498,19.73 498.5,19.75 499,19.78 499.5,19.82 500,19.86 500.5,19.89 501,19.92 501.5,19.93 502,19.95 502.5,19.95 503,19.95 503.5,19.95 504,19.93 504.5,19.9 505,19.88 505.5,19.85" fill="none" stroke="#FF00FF" stroke-width="1.35" stroke-linejoin="round" clip-path="url(#cb)"/>
<circle cx="362.6" cy="95.7" r="1.6" fill="#FF00FF"/>
<rect x="58.5" y="1.5" width="195.5" height="117" fill="none" stroke="#606060" stroke-width="1.15"/>
<path d="M58.5,118.5v-2.2M58.5,1.5v2.2M123.5,118.5v-2.2M123.5,1.5v2.2M188.5,118.5v-2.2M188.5,1.5v2.2M254,118.5v-2.2M254,1.5v2.2M58.5,18.21h2.2M254,18.21h-2.2M58.5,68.36h2.2M254,68.36h-2.2M58.5,118.5h2.2M254,118.5h-2.2" stroke="#606060" stroke-width="1" fill="none"/>
<rect x="310.5" y="1.5" width="195" height="117" fill="none" stroke="#606060" stroke-width="1.15"/>
<path d="M310.5,118.5v-2.2M310.5,1.5v2.2M408,118.5v-2.2M408,1.5v2.2M505.5,118.5v-2.2M505.5,1.5v2.2M310.5,18.21h2.2M505.5,18.21h-2.2M310.5,68.36h2.2M505.5,68.36h-2.2M310.5,118.5h2.2M505.5,118.5h-2.2" stroke="#606060" stroke-width="1" fill="none"/>
<text transform="translate(49.49 22.36)" font-size="11.2" fill="#222222">0</text>
<text transform="translate(45.62 73.06)" font-size="11.2" fill="#222222">-6</text>
<text transform="translate(39.74 121.72)" font-size="11.2" fill="#222222">-12</text>
<text transform="translate(44.24 133.46)" font-size="11.2" fill="#222222">787.5</text>
<text transform="translate(110.24 133.46)" font-size="11.2" fill="#222222">788.5</text>
<text transform="translate(175.24 133.46)" font-size="11.2" fill="#222222">789.5</text>
<text transform="translate(240.24 133.46)" font-size="11.2" fill="#222222">790.5</text>
<text transform="translate(300.99 22.56)" font-size="11.2" fill="#222222">0</text>
<text transform="translate(296.82 72.86)" font-size="11.2" fill="#222222">-6</text>
<text transform="translate(291.04 121.52)" font-size="11.2" fill="#222222">-12</text>
<text transform="translate(300.75 133.86)" font-size="11.2" fill="#222222">789</text>
<text transform="translate(394.3 133.86)" font-size="11.2" fill="#222222">789.2</text>
<text transform="translate(490.99 133.86)" font-size="11.2" fill="#222222">789.4</text>
<text transform="translate(30.39 118.65) rotate(-90) scale(1.13 1)" font-size="11.6" fill="#222222">Transmission (dB)</text>
<text transform="translate(282.19 119.15) rotate(-90) scale(1.13 1)" font-size="11.6" fill="#222222">Transmission (dB)</text>
<text x="136.3" y="148.5" font-size="12" fill="#222222"><tspan font-family="Liberation Serif, serif" font-size="13">λ</tspan> (nm)</text>
<text x="390.3" y="148.5" font-size="12" fill="#222222"><tspan font-family="Liberation Serif, serif" font-size="13">λ</tspan> (nm)</text>
<text transform="translate(61.5 13.4) scale(0.86 1)" font-size="14" class="pl">a</text>
<text x="68.9" y="13.4" font-size="12.6" class="pl">)</text>
<text transform="translate(313.9 13.7) scale(1.04 1)" font-size="14" class="pl">b</text>
<text x="322.8" y="13.7" font-size="12.6" class="pl">)</text>
<line x1="314.8" y1="104.6" x2="324.6" y2="104.6" stroke="#0072BD" stroke-width="1.4"/>
<text x="327.6" y="107.9" font-size="8.4" fill="#222222">0.0 mW</text>
<line x1="314.8" y1="114.5" x2="324.6" y2="114.5" stroke="#D95319" stroke-width="1.4"/>
<text x="327.6" y="117.8" font-size="8.4" fill="#222222">4.5 mW</text>
<line x1="360.4" y1="104.6" x2="370.2" y2="104.6" stroke="#EDB120" stroke-width="1.4"/>
<text x="372.3" y="107.9" font-size="8.4" fill="#222222">5.7 mW</text>
<line x1="360.4" y1="114.5" x2="370.2" y2="114.5" stroke="#7E2F8E" stroke-width="1.4"/>
<text x="372.3" y="117.8" font-size="8.4" fill="#222222">7.6 mW</text>
<line x1="408.6" y1="104.6" x2="418.4" y2="104.6" stroke="#77AC30" stroke-width="1.4"/>
<text x="416.4" y="107.9" font-size="8.4" fill="#222222">8.2 mW</text>
<line x1="408.6" y1="114.5" x2="418.4" y2="114.5" stroke="#4DBEEE" stroke-width="1.4"/>
<text x="416.4" y="117.8" font-size="8.4" fill="#222222">9.2 mW</text>
<line x1="450.3" y1="104.6" x2="460.1" y2="104.6" stroke="#A2142F" stroke-width="1.4"/>
<text x="461.7" y="107.9" font-size="8.4" fill="#222222">10.3 mW</text>
<line x1="450.3" y1="114.5" x2="460.1" y2="114.5" stroke="#FF00FF" stroke-width="1.4"/>
<text x="461.7" y="117.8" font-size="8.4" fill="#222222">12.7 mW</text>
<circle cx="58.5" cy="200.3" r="3.6" fill="#0000FF"/>
<circle cx="117" cy="206.6" r="3.6" fill="#0000FF"/>
<circle cx="132.6" cy="217.8" r="3.6" fill="#0000FF"/>
<circle cx="157.3" cy="225.4" r="3.6" fill="#0000FF"/>
<circle cx="165.1" cy="232.9" r="3.6" fill="#0000FF"/>
<circle cx="178.1" cy="242.8" r="3.6" fill="#0000FF"/>
<circle cx="192.4" cy="250.6" r="3.6" fill="#0000FF"/>
<circle cx="223.6" cy="255.3" r="3.6" fill="#0000FF"/>
<line x1="58.5" y1="193.01" x2="253.5" y2="267.14" stroke="#0000EE" stroke-width="1.7" clip-path="url(#cc)"/>
<rect x="55.7" y="235.5" width="5.6" height="5.6" fill="#DD0000"/>
<rect x="114.2" y="235" width="5.6" height="5.6" fill="#DD0000"/>
<rect x="129.8" y="233.7" width="5.6" height="5.6" fill="#DD0000"/>
<rect x="154.5" y="233.6" width="5.6" height="5.6" fill="#DD0000"/>
<rect x="162.3" y="233.6" width="5.6" height="5.6" fill="#DD0000"/>
<rect x="175.3" y="233.5" width="5.6" height="5.6" fill="#DD0000"/>
<rect x="189.6" y="232.8" width="5.6" height="5.6" fill="#DD0000"/>
<rect x="220.8" y="232.2" width="5.6" height="5.6" fill="#DD0000"/>
<line x1="58.5" y1="238.46" x2="253.5" y2="234.5" stroke="#DD0000" stroke-width="1.7" clip-path="url(#cc)"/>
<rect x="58.5" y="160.75" width="195" height="117" fill="none" stroke="#606060" stroke-width="1.15"/>
<path d="M58.5,277.75v-2.2M58.5,160.75v2.2M123.5,277.75v-2.2M123.5,160.75v2.2M188.5,277.75v-2.2M188.5,160.75v2.2M253.5,277.75v-2.2M253.5,160.75v2.2M58.5,160.75h2.2M253.5,160.75h-2.2M58.5,199.75h2.2M253.5,199.75h-2.2M58.5,238.75h2.2M253.5,238.75h-2.2M58.5,277.75h2.2M253.5,277.75h-2.2" stroke="#606060" stroke-width="1" fill="none"/>
<text transform="translate(18.21 164.96)" font-size="11.2" fill="#222222">789.35</text>
<text transform="translate(18.21 204.36)" font-size="11.2" fill="#222222">789.25</text>
<text transform="translate(18.21 242.36)" font-size="11.2" fill="#222222">789.15</text>
<text transform="translate(18.21 278.36)" font-size="11.2" fill="#222222">789.05</text>
<text transform="translate(55.19 293.66)" font-size="11.2" fill="#222222">0</text>
<text transform="translate(120.39 293.61)" font-size="11.2" fill="#222222">5</text>
<text transform="translate(182.09 293.66)" font-size="11.2" fill="#222222">10</text>
<text transform="translate(247.19 293.61)" font-size="11.2" fill="#222222">15</text>
<text transform="translate(60.5 173.8) scale(0.9 1)" font-size="12.4" class="pl">c</text>
<text x="67.5" y="173.8" font-size="12.6" class="pl">)</text>
<circle cx="151.9" cy="170.8" r="3.6" fill="#0000FF"/>
<text x="158" y="173.3" font-size="8.45" fill="#222222">with GaSe expt data</text>
<line x1="148" y1="180.6" x2="156" y2="180.6" stroke="#0000EE" stroke-width="1.7"/>
<text x="158" y="183.4" font-size="8.45" fill="#222222">with GaSe linear fit</text>
<rect x="149.2" y="187.5" width="5.6" height="5.6" fill="#DD0000"/>
<text x="158" y="192.7" font-size="8.45" fill="#222222">without GaSe expt data</text>
<line x1="148" y1="199.6" x2="156" y2="199.6" stroke="#DD0000" stroke-width="1.7"/>
<text x="158" y="202.4" font-size="8.45" fill="#222222">without GaSe linear fit</text>
<text transform="translate(10.4 246.6) rotate(-90) scale(1.085 1)" font-size="12" fill="#222222"><tspan font-family="Liberation Serif, serif" font-size="13">λ</tspan><tspan font-size="8.5" dy="3.8">res</tspan><tspan dy="-3.8"> (nm)</tspan></text>
<text x="125.6" y="305.5" font-size="11.4" fill="#222222">P<tspan font-size="8.6" dy="6.0" dx="0.3">b</tspan><tspan dy="-6.0" dx="0.2" font-size="12.3"> (mW)</tspan></text>
<text x="378.8" y="305.5" font-size="11.4" fill="#222222">P<tspan font-size="8.6" dy="6.0" dx="0.3">b</tspan><tspan dy="-6.0" dx="0.2" font-size="12.3"> (mW)</tspan></text>
<path d="M311,180.5L314.6,184.8L311,189.1L307.4,184.8Z" fill="#0000FF"/>
<path d="M369.5,184.2L373.1,188.5L369.5,192.8L365.9,188.5Z" fill="#0000FF"/>
<path d="M385.3,258.5L388.9,262.8L385.3,267.1L381.7,262.8Z" fill="#0000FF"/>
<path d="M409.9,240.5L413.5,244.8L409.9,249.1L406.3,244.8Z" fill="#0000FF"/>
<path d="M417.9,230.7L421.5,235L417.9,239.3L414.3,235Z" fill="#0000FF"/>
<path d="M430.7,237.5L434.3,241.8L430.7,246.1L427.1,241.8Z" fill="#0000FF"/>
<path d="M445,226.9L448.6,231.2L445,235.5L441.4,231.2Z" fill="#0000FF"/>
<path d="M476,251.5L479.6,255.8L476,260.1L472.4,255.8Z" fill="#0000FF"/>
<line x1="311" y1="191.73" x2="506" y2="271.85" stroke="#0000CC" stroke-width="1.7" clip-path="url(#cd)"/>
<rect x="311" y="161" width="195" height="117.5" fill="none" stroke="#606060" stroke-width="1.15"/>
<path d="M311,278.5v-2.2M311,161v2.2M376,278.5v-2.2M376,161v2.2M441,278.5v-2.2M441,161v2.2M506,278.5v-2.2M506,161v2.2M311,161h2.2M506,161h-2.2M311,200.17h2.2M506,200.17h-2.2M311,239.33h2.2M506,239.33h-2.2M311,278.5h2.2M506,278.5h-2.2" stroke="#606060" stroke-width="1" fill="none"/>
<text transform="translate(292.42 166.31)" font-size="11.2" fill="#222222">1.5</text>
<text transform="translate(292.36 205.06)" font-size="11.2" fill="#222222">1.4</text>
<text transform="translate(292.45 243.76)" font-size="11.2" fill="#222222">1.3</text>
<text transform="translate(292.48 282.92)" font-size="11.2" fill="#222222">1.2</text>
<text transform="translate(307.89 293.66)" font-size="11.2" fill="#222222">0</text>
<text transform="translate(372.89 293.61)" font-size="11.2" fill="#222222">5</text>
<text transform="translate(435.19 293.66)" font-size="11.2" fill="#222222">10</text>
<text transform="translate(499.99 293.61)" font-size="11.2" fill="#222222">15</text>
<text transform="translate(313.7 173.8) scale(1.06 1)" font-size="14" class="pl">d</text>
<text x="322.4" y="173.8" font-size="12.6" class="pl">)</text>
<text x="307.5" y="156.6" font-size="11" fill="#3a3a3a" style="stroke:#3a3a3a;stroke-width:0.1px"><tspan font-size="10" dy="0.3">×</tspan><tspan dy="-0.3">10</tspan><tspan font-size="7.5" dx="-0.6" dy="-7.8">4</tspan></text>
<path d="M415,165.6L418.5,169.9L415,174.2L411.5,169.9Z" fill="#0000FF"/>
<text x="421.7" y="173.5" font-size="8.45" fill="#222222">with GaSe expt data</text>
<line x1="410.6" y1="180.5" x2="419" y2="180.5" stroke="#0000CC" stroke-width="1.7"/>
<text x="421.7" y="183.4" font-size="8.45" fill="#222222">with GaSe linear fit</text>
<text transform="translate(284.7 239.12) rotate(-90) scale(1.03 1)" font-size="11.6" fill="#222222">Q factor</text>
</svg>
</body></html>
